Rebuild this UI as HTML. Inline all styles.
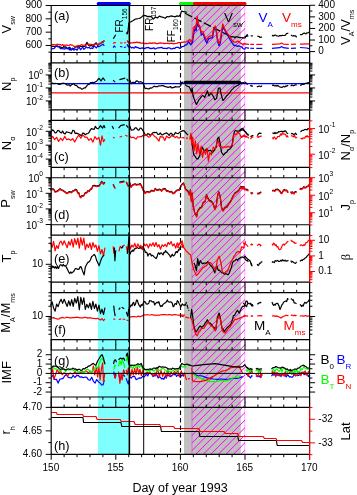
<!DOCTYPE html>
<html><head><meta charset="utf-8"><title>Day of year 1993</title>
<style>html,body{margin:0;padding:0;background:#fff}svg{display:block}</style></head>
<body>
<svg width="357" height="495" viewBox="0 0 357 495">
<rect x="0" y="0" width="357" height="495" fill="#fff"/>
<rect x="97.9" y="5.5" width="31.7" height="448.9" fill="#80ffff"/>
<rect x="184" y="5.5" width="56.8" height="448.9" fill="#c0c0c0"/>
<defs><clipPath id="hc"><rect x="191.7" y="5.5" width="53.3" height="448.9"/></clipPath></defs>
<g clip-path="url(#hc)" stroke="#ff00ff" stroke-width="1"><line x1="194.67" y1="3.50" x2="-258.20" y2="456.37"/><line x1="202.20" y1="3.50" x2="-250.67" y2="456.37"/><line x1="209.73" y1="3.50" x2="-243.14" y2="456.37"/><line x1="217.26" y1="3.50" x2="-235.61" y2="456.37"/><line x1="224.79" y1="3.50" x2="-228.08" y2="456.37"/><line x1="232.32" y1="3.50" x2="-220.55" y2="456.37"/><line x1="239.85" y1="3.50" x2="-213.02" y2="456.37"/><line x1="247.39" y1="3.50" x2="-205.48" y2="456.37"/><line x1="254.92" y1="3.50" x2="-197.95" y2="456.37"/><line x1="262.45" y1="3.50" x2="-190.42" y2="456.37"/><line x1="269.98" y1="3.50" x2="-182.89" y2="456.37"/><line x1="277.51" y1="3.50" x2="-175.36" y2="456.37"/><line x1="285.04" y1="3.50" x2="-167.83" y2="456.37"/><line x1="292.57" y1="3.50" x2="-160.30" y2="456.37"/><line x1="300.10" y1="3.50" x2="-152.77" y2="456.37"/><line x1="307.63" y1="3.50" x2="-145.24" y2="456.37"/><line x1="315.16" y1="3.50" x2="-137.71" y2="456.37"/><line x1="322.70" y1="3.50" x2="-130.17" y2="456.37"/><line x1="330.23" y1="3.50" x2="-122.64" y2="456.37"/><line x1="337.76" y1="3.50" x2="-115.11" y2="456.37"/><line x1="345.29" y1="3.50" x2="-107.58" y2="456.37"/><line x1="352.82" y1="3.50" x2="-100.05" y2="456.37"/><line x1="360.35" y1="3.50" x2="-92.52" y2="456.37"/><line x1="367.88" y1="3.50" x2="-84.99" y2="456.37"/><line x1="375.41" y1="3.50" x2="-77.46" y2="456.37"/><line x1="382.94" y1="3.50" x2="-69.93" y2="456.37"/><line x1="390.48" y1="3.50" x2="-62.39" y2="456.37"/><line x1="398.01" y1="3.50" x2="-54.86" y2="456.37"/><line x1="405.54" y1="3.50" x2="-47.33" y2="456.37"/><line x1="413.07" y1="3.50" x2="-39.80" y2="456.37"/><line x1="420.60" y1="3.50" x2="-32.27" y2="456.37"/><line x1="428.13" y1="3.50" x2="-24.74" y2="456.37"/><line x1="435.66" y1="3.50" x2="-17.21" y2="456.37"/><line x1="443.19" y1="3.50" x2="-9.68" y2="456.37"/><line x1="450.72" y1="3.50" x2="-2.15" y2="456.37"/><line x1="458.25" y1="3.50" x2="5.38" y2="456.37"/><line x1="465.78" y1="3.50" x2="12.91" y2="456.37"/><line x1="473.32" y1="3.50" x2="20.45" y2="456.37"/><line x1="480.85" y1="3.50" x2="27.98" y2="456.37"/><line x1="488.38" y1="3.50" x2="35.51" y2="456.37"/><line x1="495.91" y1="3.50" x2="43.04" y2="456.37"/><line x1="503.44" y1="3.50" x2="50.57" y2="456.37"/><line x1="510.97" y1="3.50" x2="58.10" y2="456.37"/><line x1="518.50" y1="3.50" x2="65.63" y2="456.37"/><line x1="526.03" y1="3.50" x2="73.16" y2="456.37"/><line x1="533.56" y1="3.50" x2="80.69" y2="456.37"/><line x1="541.10" y1="3.50" x2="88.23" y2="456.37"/><line x1="548.63" y1="3.50" x2="95.76" y2="456.37"/><line x1="556.16" y1="3.50" x2="103.29" y2="456.37"/><line x1="563.69" y1="3.50" x2="110.82" y2="456.37"/><line x1="571.22" y1="3.50" x2="118.35" y2="456.37"/><line x1="578.75" y1="3.50" x2="125.88" y2="456.37"/><line x1="586.28" y1="3.50" x2="133.41" y2="456.37"/><line x1="593.81" y1="3.50" x2="140.94" y2="456.37"/><line x1="601.34" y1="3.50" x2="148.47" y2="456.37"/><line x1="608.87" y1="3.50" x2="156.00" y2="456.37"/><line x1="616.40" y1="3.50" x2="163.53" y2="456.37"/><line x1="623.94" y1="3.50" x2="171.07" y2="456.37"/><line x1="631.47" y1="3.50" x2="178.60" y2="456.37"/><line x1="639.00" y1="3.50" x2="186.13" y2="456.37"/><line x1="646.53" y1="3.50" x2="193.66" y2="456.37"/><line x1="654.06" y1="3.50" x2="201.19" y2="456.37"/><line x1="661.59" y1="3.50" x2="208.72" y2="456.37"/><line x1="669.12" y1="3.50" x2="216.25" y2="456.37"/><line x1="676.65" y1="3.50" x2="223.78" y2="456.37"/><line x1="684.18" y1="3.50" x2="231.31" y2="456.37"/><line x1="691.71" y1="3.50" x2="238.84" y2="456.37"/><line x1="699.25" y1="3.50" x2="246.38" y2="456.37"/></g>
<line x1="192.00" y1="5.50" x2="192.00" y2="454.37" stroke="#ff00ff" stroke-width="1" stroke-opacity="0.4"/>
<line x1="244.80" y1="5.50" x2="244.80" y2="454.37" stroke="#ff00ff" stroke-width="1" stroke-opacity="0.35"/>
<line x1="98.40" y1="3.80" x2="129.10" y2="3.80" stroke="#0000ff" stroke-width="3.5" stroke-linecap="round"/>
<line x1="194.00" y1="3.80" x2="244.80" y2="3.80" stroke="#ff0000" stroke-width="3.5" stroke-linecap="round"/>
<line x1="180.70" y1="3.80" x2="192.50" y2="3.80" stroke="#00ff00" stroke-width="3.5" stroke-linecap="round"/>
<rect x="191.5" y="2.05" width="2.5" height="3.5" fill="#00ff00"/>
<rect x="193.2" y="2.05" width="2.5" height="3.5" fill="#ff0000"/>
<polyline points="51.4,46.8 52.5,46.4 53.6,46.4 54.7,46.7 55.8,46.2 57.0,46.5 58.1,46.9 59.2,46.1 60.3,47.1 61.4,47.4 62.6,48.1 63.7,46.4 64.8,47.3 65.9,46.7 67.0,48.8 68.2,48.5 69.3,47.1 70.4,49.9 71.5,49.6 72.6,49.0 73.8,48.7 74.9,47.6 76.0,46.4 77.1,47.3 78.3,46.1 79.4,46.1 80.5,46.4 81.6,46.5 82.7,46.8 83.9,46.3 85.0,46.5 86.0,44.1 87.0,42.3 88.7,45.5 89.7,46.1 90.7,45.7 91.7,45.6 93.0,46.5 94.2,45.1 96.1,42.7 97.7,45.5 98.9,44.2 100.1,43.8 101.1,42.9 102.1,41.9 103.2,42.2 104.3,40.4" fill="none" stroke="#000" stroke-width="1.2" stroke-linejoin="round" />
<polyline points="51.4,49.3 52.5,48.7 53.6,48.7 54.7,47.9 55.8,46.3 57.0,45.6 58.1,46.6 59.2,46.6 60.3,48.6 61.4,48.5 62.6,48.7 63.7,48.8 64.8,49.1 65.9,47.6 67.0,48.4 68.2,47.9 69.3,50.0 70.4,47.7 71.5,49.9 72.6,48.2 73.8,50.2 74.9,49.5 76.0,49.2 77.1,50.2 78.3,48.0 79.4,47.4 80.5,49.8 81.6,48.5 82.7,47.0 83.9,49.4 85.0,48.5 86.1,46.7 87.2,47.8 88.3,47.5 89.5,47.7 90.6,48.7 91.7,47.9 92.8,48.6 93.9,46.2 95.1,46.6 96.2,48.0 97.3,46.6 98.4,46.7 99.5,46.5 100.7,45.6 101.8,44.9 103.0,44.1 104.3,46.0" fill="none" stroke="#0000ff" stroke-width="1.2" stroke-linejoin="round" />
<polyline points="51.4,45.1 52.5,44.4 53.6,44.9 54.7,44.5 55.8,45.1 57.0,44.1 58.1,44.5 59.2,44.3 60.3,44.5 61.4,45.4 62.6,44.6 63.7,45.4 64.8,45.2 65.9,45.0 67.0,45.1 68.2,45.5 69.3,45.4 70.4,44.5 71.5,45.2 72.6,45.0 73.8,46.5 74.9,46.3 76.0,46.2 77.1,46.0 78.3,45.4 79.4,45.8 80.5,45.4 81.6,44.5 82.7,45.5 83.9,45.0 85.0,45.4 86.1,45.0 87.2,44.4 88.3,44.1 89.5,44.3 90.6,44.3 91.7,44.4 92.8,44.9 93.9,44.4 95.1,44.0 96.2,44.1 97.3,44.1 98.4,44.6 99.5,43.1 100.7,43.5 101.8,42.5 103.0,41.4 104.3,41.4" fill="none" stroke="#ff0000" stroke-width="1.2" stroke-linejoin="round" />
<polyline points="113.3,38.8 115.7,34.7" fill="none" stroke="#000" stroke-width="1.2" stroke-linejoin="round" />
<polyline points="126.2,33.5 127.8,31.5" fill="none" stroke="#000" stroke-width="1.2" stroke-linejoin="round" />
<polyline points="113.0,43.5 114.5,42.5 116.0,43.0" fill="none" stroke="#ff0000" stroke-width="1.2" stroke-linejoin="round" />
<polyline points="120.0,43.0 122.5,42.8" fill="none" stroke="#ff0000" stroke-width="1.2" stroke-linejoin="round" />
<polyline points="124.0,43.0 126.0,42.5" fill="none" stroke="#ff0000" stroke-width="1.2" stroke-linejoin="round" />
<polyline points="127.0,42.0 129.0,41.5" fill="none" stroke="#ff0000" stroke-width="1.2" stroke-linejoin="round" />
<polyline points="113.0,47.5 114.5,46.0 115.5,47.5" fill="none" stroke="#0000ff" stroke-width="1.2" stroke-linejoin="round" />
<polyline points="120.0,46.5 122.5,47.0" fill="none" stroke="#0000ff" stroke-width="1.2" stroke-linejoin="round" />
<polyline points="124.0,47.5 126.0,47.0" fill="none" stroke="#0000ff" stroke-width="1.2" stroke-linejoin="round" />
<polyline points="127.0,45.5 129.0,46.5" fill="none" stroke="#0000ff" stroke-width="1.2" stroke-linejoin="round" />
<polyline points="127.0,34.4 127.9,32.0 128.9,22.8 130.9,21.8 132.8,20.7 134.8,19.4 136.8,18.8 138.7,18.5 140.7,17.9 142.6,16.1 143.6,15.4 145.6,15.6 147.5,16.6 149.5,16.3 151.5,16.8 153.4,19.1 155.4,17.0 157.4,18.0 159.3,16.1 161.3,16.9 163.2,17.3 165.2,18.3 167.2,16.5 169.1,16.8 171.1,15.9 173.0,16.3 175.0,16.9 177.0,15.9 178.9,16.4 180.5,14.3 181.5,11.1 182.8,11.4 184.8,11.8 186.8,12.4" fill="none" stroke="#000" stroke-width="1.2" stroke-linejoin="round" />
<polyline points="185.0,13.2 228.5,35.4" fill="none" stroke="#000" stroke-width="1.25" stroke-dasharray="8 2.5" stroke-linejoin="round" />
<polyline points="228.5,35.6 229.8,36.3 231.0,36.8 232.0,36.7 233.0,36.8 234.0,36.8 235.0,37.7 236.0,36.8 237.0,36.9 238.0,37.1 239.0,37.3 240.0,37.7 241.0,37.6 242.0,37.5 243.0,38.1 244.0,37.8 245.0,38.0 246.5,35.4 248.0,34.6" fill="none" stroke="#000" stroke-width="1.2" stroke-linejoin="round" />
<polyline points="127.0,44.2 128.9,47.5 130.2,46.6 131.5,47.9 132.8,47.4 134.2,48.2 135.5,46.6 136.8,47.5 138.1,47.7 139.4,48.3 140.7,48.5 142.0,47.8 143.3,48.1 144.6,48.7 145.9,47.9 147.2,47.6 148.5,47.5 149.8,48.4 151.1,48.5 152.5,48.4 153.8,47.8 155.1,49.0 156.4,48.5 157.7,47.8 159.0,47.9 160.3,47.6 161.6,47.3 162.9,48.3 164.2,48.4 165.5,48.3 166.8,48.6 168.1,47.8 169.4,47.8 170.8,48.8 172.1,48.9 173.4,48.2 174.7,48.6 176.0,47.3 177.3,47.3 178.6,47.5 179.9,48.5 181.9,46.7 183.8,46.3 185.3,45.0 186.8,44.6 188.7,41.6 190.7,44.8 192.6,42.2 193.7,33.1 195.3,27.8 196.1,30.8 197.5,19.2 198.2,26.3 199.8,26.9 201.4,35.0 203.3,33.7 204.7,38.8 206.7,43.0 208.6,38.9 210.6,38.1 212.5,37.7 213.9,30.2 215.5,27.2 216.5,32.1 217.5,40.8 219.0,45.7 220.4,42.7 221.8,32.1 222.9,27.2 224.3,29.5 226.3,33.0 228.2,36.3 230.2,39.8 232.0,42.6 233.9,45.3 235.4,45.4 236.9,46.3 238.8,45.8 240.3,46.5 241.8,47.0 243.1,48.5 244.4,49.3 245.7,48.5" fill="none" stroke="#0000ff" stroke-width="1.3" stroke-linejoin="round" />
<polyline points="127.0,40.3 128.9,43.1 130.2,43.0 131.5,42.9 132.8,42.8 134.2,42.5 135.5,42.6 136.8,42.1 138.1,42.7 139.4,42.4 140.7,43.1 142.0,43.2 143.3,43.1 144.6,43.7 145.9,43.3 147.2,43.6 148.5,43.4 149.8,42.8 151.1,43.3 152.5,43.0 153.8,43.2 155.1,42.9 156.4,43.6 157.7,43.6 159.0,43.1 160.3,43.0 161.6,43.2 162.9,43.2 164.2,43.7 165.5,43.3 166.8,43.3 168.1,43.3 169.4,43.7 170.8,43.3 172.1,43.3 173.4,43.9 174.7,43.6 176.0,43.4 177.3,43.1 178.6,42.7 179.9,42.6 181.2,42.4 182.5,42.4 183.8,42.0 185.1,42.1 186.4,41.8 187.7,41.0 189.7,39.5 191.3,42.2 192.6,38.3 193.3,30.3 194.7,26.5 195.7,28.4 197.3,16.7 198.0,23.5 199.6,25.8 201.2,32.1 203.1,31.6 204.5,35.8 206.5,40.0 208.4,37.1 210.4,35.9 212.4,35.7 213.7,28.3 215.3,26.0 216.3,31.1 217.3,38.0 218.8,43.7 220.2,40.7 221.6,30.7 222.7,24.0 224.1,27.5 226.1,31.6 228.0,34.2 230.0,37.0 232.0,40.1 233.9,42.0 235.9,42.2 237.8,41.1 239.8,42.6 241.3,43.5 242.7,44.4 244.2,43.6 245.7,44.2" fill="none" stroke="#ff0000" stroke-width="1.3" stroke-linejoin="round" />
<polyline points="245.1,37.0 246.2,36.4 247.3,36.1 248.4,36.0" fill="none" stroke="#000" stroke-width="1.2" stroke-linejoin="round" />
<polyline points="250.7,35.7 251.8,36.0 252.9,35.9" fill="none" stroke="#000" stroke-width="1.2" stroke-linejoin="round" />
<polyline points="257.4,36.1 258.2,36.5 259.1,36.4 259.9,37.3 260.8,37.4 261.9,36.8" fill="none" stroke="#000" stroke-width="1.2" stroke-linejoin="round" />
<polyline points="272.0,35.9 272.8,35.3 273.7,35.9 274.5,35.3 275.3,35.1 276.2,35.6 277.0,35.8 277.9,36.0 278.7,36.3 279.5,35.7 280.4,35.5 281.2,35.9 282.1,35.2 282.9,35.5 283.7,35.5 284.6,35.5 285.4,35.1 286.4,33.8 287.4,33.3 288.3,33.4" fill="none" stroke="#000" stroke-width="1.2" stroke-linejoin="round" />
<polyline points="291.0,34.9 291.9,35.7 292.8,36.0 293.7,35.6 294.7,35.9 295.7,35.9 296.6,37.4" fill="none" stroke="#000" stroke-width="1.2" stroke-linejoin="round" />
<polyline points="300.0,34.8 300.8,34.5 301.7,34.7 302.5,34.0 303.3,33.4 304.2,32.9 305.0,33.4 305.9,33.9 306.7,32.8 307.7,33.0 308.7,32.5 309.6,31.8" fill="none" stroke="#000" stroke-width="1.2" stroke-linejoin="round" />
<polyline points="245.1,43.9 248.4,44.4 254.0,44.4" fill="none" stroke="#ff0000" stroke-width="1.2" stroke-dasharray="4 1.2" stroke-linejoin="round" />
<polyline points="256.3,44.4 262.3,44.4" fill="none" stroke="#ff0000" stroke-width="1.2" stroke-linejoin="round" />
<polyline points="272.0,44.4 279.8,43.9 281.6,43.0 283.2,44.1 288.8,44.4" fill="none" stroke="#ff0000" stroke-width="1.2" stroke-linejoin="round" />
<polyline points="291.0,44.4 296.0,44.1" fill="none" stroke="#ff0000" stroke-width="1.2" stroke-linejoin="round" />
<polyline points="300.0,44.1 309.6,43.9" fill="none" stroke="#ff0000" stroke-width="1.2" stroke-linejoin="round" />
<polyline points="245.1,47.5 248.4,48.2 254.0,48.4" fill="none" stroke="#0000ff" stroke-width="1.2" stroke-dasharray="4 1.2" stroke-linejoin="round" />
<polyline points="256.3,48.4 262.3,48.4" fill="none" stroke="#0000ff" stroke-width="1.2" stroke-linejoin="round" />
<polyline points="272.0,48.4 279.8,47.7 281.6,46.4 283.2,47.7 288.8,48.4" fill="none" stroke="#0000ff" stroke-width="1.2" stroke-linejoin="round" />
<polyline points="291.0,48.4 296.0,48.2" fill="none" stroke="#0000ff" stroke-width="1.2" stroke-linejoin="round" />
<polyline points="300.0,47.5 306.7,48.0 309.6,48.9" fill="none" stroke="#0000ff" stroke-width="1.2" stroke-linejoin="round" />
<line x1="51.20" y1="83.60" x2="309.60" y2="83.60" stroke="#0000ff" stroke-width="1.25" />
<line x1="51.20" y1="92.85" x2="309.60" y2="92.85" stroke="#ff0000" stroke-width="1.25" />
<polyline points="51.3,83.7 52.6,83.0 53.8,83.7 55.1,83.3 56.3,83.5 57.6,83.5 58.9,84.5 60.1,84.3 61.4,83.6 62.6,83.2 63.9,83.3 65.2,83.5 66.4,84.6 67.7,85.2 68.9,84.7 70.2,86.0 71.5,84.8 72.7,84.3 74.0,83.8 75.2,85.5 76.5,85.4 77.8,87.0 79.0,87.8 80.3,87.8 81.6,89.1 82.8,88.8 84.1,87.9 85.3,87.9 86.6,86.1 87.9,84.7 89.1,84.5 90.4,82.6 91.6,82.6 92.9,82.4 94.2,82.8 95.4,81.7 96.7,81.2 97.9,79.5 99.2,78.3 101.0,81.0 103.0,77.9 105.0,80.7" fill="none" stroke="#000" stroke-width="1.2" stroke-linejoin="round" />
<polyline points="113.1,80.2 115.1,82.2" fill="none" stroke="#000" stroke-width="1.2" stroke-linejoin="round" />
<polyline points="119.4,79.7 125.2,78.2" fill="none" stroke="#000" stroke-width="1.2" stroke-linejoin="round" />
<polyline points="126.7,78.7 128.2,81.2" fill="none" stroke="#000" stroke-width="1.2" stroke-linejoin="round" />
<polyline points="129.5,79.4 131.3,83.6 132.6,82.4 133.8,82.3 135.1,82.7 136.3,80.9 137.6,81.1 138.9,82.3 140.1,81.7 141.4,82.0 143.1,83.0 145.2,88.7 146.4,88.2 147.7,88.8 148.9,88.9 150.2,87.9 151.5,88.1 152.7,87.4 154.0,86.1 155.2,86.6 156.5,86.6 157.8,86.6 159.0,85.8 160.3,86.0 161.6,85.6 162.8,85.6 164.1,86.1 165.3,86.6 166.6,86.8 167.9,87.4 169.1,87.2 170.4,86.5 171.6,87.9 172.9,87.6 174.2,87.4 175.4,86.6 176.7,87.0 177.9,86.9 179.2,87.0 180.5,85.9 181.7,82.4 183.5,82.2" fill="none" stroke="#000" stroke-width="1.2" stroke-linejoin="round" />
<polyline points="185.1,84.5 186.3,85.7 187.6,86.3 188.9,86.6 190.1,88.5 191.4,92.1 192.1,88.2 193.1,95.8 194.7,100.5 196.4,104.4 197.7,102.1 198.9,99.8 200.2,98.3 201.5,96.4 202.7,95.4 204.7,97.3 206.5,93.2 207.3,90.8 209.0,96.0 210.8,93.2 212.8,95.4 214.8,99.8 216.6,98.4 218.4,88.4 219.9,87.9 221.6,96.2 222.9,100.7 224.7,98.6 226.7,95.7 227.9,94.7 229.2,93.4 230.5,91.5 231.7,89.9 233.0,88.6 234.2,87.2 235.5,86.5 236.8,85.7 238.0,85.3 239.3,84.2 241.0,82.9 243.1,82.5 244.3,83.2 245.6,82.4 247.6,84.7" fill="none" stroke="#000" stroke-width="1.2" stroke-linejoin="round" />
<polyline points="250.2,86.0 251.1,85.4 252.0,86.4 252.8,85.7" fill="none" stroke="#000" stroke-width="1.2" stroke-linejoin="round" />
<polyline points="256.8,86.6 257.6,86.6 258.4,86.5 259.2,86.0 260.0,86.3 261.0,86.7 262.0,85.7" fill="none" stroke="#000" stroke-width="1.2" stroke-linejoin="round" />
<polyline points="272.0,85.1 272.8,85.3 273.6,85.2 274.4,85.9 275.2,85.9 276.0,85.4 276.8,86.2 277.6,85.5 278.4,85.8 279.2,86.7 280.0,87.0 280.8,87.1 281.7,87.3 282.5,87.1 283.3,86.3 284.2,86.8 285.0,86.8 285.8,85.9 286.7,86.2 287.5,85.6 288.3,85.5" fill="none" stroke="#000" stroke-width="1.2" stroke-linejoin="round" />
<polyline points="290.8,86.1 291.7,85.0 292.5,85.3 293.3,85.8 294.2,85.4 295.0,85.0 295.8,84.7 296.7,85.2" fill="none" stroke="#000" stroke-width="1.2" stroke-linejoin="round" />
<polyline points="300.0,85.1 301.0,85.2 302.0,84.4 303.0,84.2 304.0,84.4 305.0,83.4 306.0,83.3 306.9,83.2 307.8,82.7 308.7,82.8 309.6,82.0" fill="none" stroke="#000" stroke-width="1.2" stroke-linejoin="round" />
<line x1="185.30" y1="82.30" x2="239.60" y2="82.30" stroke="#000" stroke-width="3.0" stroke-linecap="round"/>
<polyline points="50.5,132.6 52.6,129.8 53.8,130.7 55.1,133.0 56.3,132.7 57.6,130.5 58.9,130.7 60.1,132.2 61.4,132.9 62.6,131.0 63.9,133.4 65.2,133.9 66.4,131.8 67.7,132.2 68.9,132.5 70.2,133.0 71.5,133.6 72.7,130.4 74.0,130.5 75.2,133.4 76.5,133.1 77.8,133.6 79.0,134.2 80.3,134.9 81.6,135.8 82.8,133.1 84.1,133.3 85.3,134.8 86.6,133.8 87.9,133.5 89.1,132.4 90.4,129.9 91.6,128.5 92.9,129.2 94.2,129.3 95.4,126.3 96.7,128.3 97.9,128.8 99.2,127.6 100.5,125.6 102.5,128.1 104.0,125.5 105.0,128.1" fill="none" stroke="#000" stroke-width="1.2" stroke-linejoin="round" />
<polyline points="50.5,138.9 52.6,136.3 54.6,139.6 56.6,137.3 58.6,141.5 60.6,138.2 62.6,140.6 64.7,136.4 66.7,139.7 68.7,138.9 70.7,140.3 72.7,138.6 74.7,142.0 76.8,137.9 78.8,135.2 80.8,138.2 82.8,134.9 84.8,137.2 86.8,137.1 88.9,140.4 90.9,138.4 92.9,142.1 94.9,136.6 96.9,139.4 98.9,137.4 100.5,145.2 102.0,135.9 103.5,141.6 105.0,139.2" fill="none" stroke="#ff0000" stroke-width="1.2" stroke-linejoin="round" />
<polyline points="112.1,126.1 113.6,129.1" fill="none" stroke="#000" stroke-width="1.2" stroke-linejoin="round" />
<polyline points="118.6,128.1 120.6,125.6 124.7,124.6" fill="none" stroke="#000" stroke-width="1.2" stroke-linejoin="round" />
<polyline points="126.2,125.1 128.2,127.6" fill="none" stroke="#000" stroke-width="1.2" stroke-linejoin="round" />
<polyline points="113.1,137.2 114.6,138.2" fill="none" stroke="#ff0000" stroke-width="1.2" stroke-linejoin="round" />
<polyline points="119.6,137.2 122.1,136.2" fill="none" stroke="#ff0000" stroke-width="1.2" stroke-linejoin="round" />
<polyline points="125.2,135.2 127.7,136.2" fill="none" stroke="#ff0000" stroke-width="1.2" stroke-linejoin="round" />
<polyline points="129.5,125.1 131.3,130.2 132.6,130.0 133.8,129.6 135.1,127.8 136.3,127.8 137.6,129.7 138.9,130.3 140.1,128.0 141.4,128.4 143.1,130.8 145.2,134.7 146.4,135.4 147.7,133.7 148.9,134.0 150.2,135.4 151.5,134.3 152.7,132.8 154.0,132.4 155.2,132.6 156.5,132.2 157.8,134.3 159.0,134.3 160.3,133.0 161.6,134.6 162.8,134.9 164.1,133.8 165.3,133.4 166.6,132.9 167.9,133.9 169.1,135.5 170.4,133.3 171.6,133.4 172.9,135.3 174.2,134.6 175.4,132.5 176.7,133.2 177.9,133.7 179.2,132.8 180.5,131.8 182.5,130.7 184.2,130.8 186.0,133.0 188.0,135.2" fill="none" stroke="#000" stroke-width="1.2" stroke-linejoin="round" />
<polyline points="129.5,135.7 131.3,137.7 132.6,137.4 133.8,137.3 135.1,138.6 136.3,138.9 137.6,136.8 138.9,137.0 140.1,136.5 141.4,136.8 142.6,135.5 143.9,136.2 145.2,134.6 146.4,134.8 147.7,136.3 148.9,137.2 150.2,136.7 151.5,134.4 152.7,134.4 154.0,135.7 155.2,136.8 156.5,137.8 157.8,139.6 159.0,141.0 160.3,136.3 161.6,137.1 162.8,136.8 164.8,140.4 166.6,136.1 167.9,137.3 169.1,137.9 170.4,136.9 171.6,135.5 172.9,136.2 174.2,136.7 175.4,137.6 176.7,136.3 177.9,137.7 179.2,138.2 181.0,136.7" fill="none" stroke="#ff0000" stroke-width="1.2" stroke-linejoin="round" />
<polyline points="181.5,137.7 188.0,138.2" fill="none" stroke="#ff0000" stroke-width="1.2" stroke-dasharray="3 1.5" stroke-linejoin="round" />
<polyline points="190.8,134.6 192.2,144.5 193.7,154.5 195.7,157.4 196.9,158.8 198.0,158.9 199.6,155.7 201.2,150.4 202.5,147.6 204.5,151.5 206.5,148.8 208.4,151.0 210.4,150.2 212.4,152.5 214.3,150.4 216.3,146.6 217.6,138.4 218.8,137.1 220.2,143.9 221.6,152.5 223.5,155.1 225.5,152.7 226.8,152.1 228.0,149.8 230.0,149.0 232.0,146.2 233.3,136.2 234.5,131.3 235.7,130.4 236.9,131.1 238.8,131.2 240.8,129.3 242.7,128.3 244.7,131.1 246.7,133.7 248.6,134.6" fill="none" stroke="#000" stroke-width="1.2" stroke-linejoin="round" />
<polyline points="189.8,139.5 190.8,133.4 191.8,145.1 192.7,137.2 194.1,150.9 195.3,140.9 196.7,153.8 198.0,143.7 199.6,154.4 201.2,146.0 202.5,157.5 203.9,150.2 205.5,154.3 207.1,148.4 208.4,161.2 209.8,152.7 211.4,154.9 213.3,147.1 215.3,148.8 216.9,143.0 218.2,140.3 219.8,146.8 221.2,146.4 222.5,147.3 223.8,147.1 225.1,146.9 226.6,147.4 228.0,146.1 229.5,147.3 231.0,145.9 232.5,144.5 233.9,134.4 235.9,134.3 237.8,132.1 239.8,134.2 241.8,137.4 243.7,135.4 245.2,135.9 246.7,137.5" fill="none" stroke="#ff0000" stroke-width="1.2" stroke-linejoin="round" />
<polyline points="240.0,130.7 240.8,130.7 241.7,129.4 242.5,130.1 243.4,129.9 244.5,131.3 245.6,131.8 246.7,133.7 247.8,135.0 248.7,135.5" fill="none" stroke="#000" stroke-width="1.2" stroke-linejoin="round" />
<polyline points="250.4,136.3 251.2,136.4 252.3,135.6 253.4,135.5" fill="none" stroke="#000" stroke-width="1.2" stroke-linejoin="round" />
<polyline points="257.0,135.4 257.9,134.9 258.8,133.4 259.7,133.2 260.6,133.4 261.5,133.3" fill="none" stroke="#000" stroke-width="1.2" stroke-linejoin="round" />
<polyline points="272.3,133.3 273.2,133.0 274.1,133.7 275.0,132.4 275.9,133.6 276.8,132.8 277.6,133.0 278.5,131.7 279.4,131.8 280.3,131.5 281.2,131.2 282.1,131.8 283.0,131.1 283.9,131.9 284.8,130.8 285.7,130.9 286.5,132.6 287.3,133.3 288.2,133.6" fill="none" stroke="#000" stroke-width="1.2" stroke-linejoin="round" />
<polyline points="290.9,133.4 291.8,133.6 292.7,133.6 293.6,134.6 294.5,134.2 295.4,133.2 296.2,134.4 297.1,134.4" fill="none" stroke="#000" stroke-width="1.2" stroke-linejoin="round" />
<polyline points="300.5,132.1 301.3,131.0 302.2,130.4 303.0,130.5 303.9,130.1 304.7,129.6 305.5,129.4 306.3,129.5 307.1,129.9 307.9,128.6 308.7,128.8 309.5,128.9" fill="none" stroke="#000" stroke-width="1.2" stroke-linejoin="round" />
<polyline points="240.0,137.4 240.9,136.6 241.8,136.7 242.7,136.1 243.6,136.3 244.5,136.4 245.3,136.9 246.2,136.3 247.0,136.8 247.8,137.0 248.7,138.3" fill="none" stroke="#ff0000" stroke-width="1.2" stroke-linejoin="round" />
<polyline points="250.4,139.1 251.2,138.0 252.3,136.9 253.4,137.3" fill="none" stroke="#ff0000" stroke-width="1.2" stroke-linejoin="round" />
<polyline points="256.8,137.0 257.6,136.5 258.4,137.4 259.2,136.8 260.0,136.3 260.8,136.4 261.6,135.7" fill="none" stroke="#ff0000" stroke-width="1.2" stroke-linejoin="round" />
<polyline points="272.3,137.5 273.2,138.8 274.1,137.0 275.0,137.8 275.9,139.2 276.7,138.4 277.5,136.5 278.4,136.5 279.2,136.8 280.1,135.4 280.9,133.7 281.7,135.1 282.6,132.8 283.7,134.1 284.8,134.2 285.7,134.8 286.5,136.8 287.3,135.8 288.2,137.6" fill="none" stroke="#ff0000" stroke-width="1.2" stroke-linejoin="round" />
<polyline points="290.9,135.5 291.8,136.0 292.7,136.1 293.6,136.9 294.5,135.4 295.4,137.6 296.2,137.9 297.1,137.1" fill="none" stroke="#ff0000" stroke-width="1.2" stroke-linejoin="round" />
<polyline points="300.5,138.7 301.3,138.3 302.2,139.1 303.0,137.8 303.9,138.1 304.7,138.2 305.5,136.4 306.3,136.8 307.1,135.7 307.9,136.8 308.7,136.7 309.5,136.3" fill="none" stroke="#ff0000" stroke-width="1.2" stroke-linejoin="round" />
<polyline points="50.0,189.2 51.3,189.1 52.6,188.9 53.8,189.2 55.1,191.6 56.3,191.4 57.6,190.9 58.9,189.7 60.1,188.6 61.4,189.9 62.6,190.1 63.9,190.9 65.2,191.8 66.4,193.1 67.7,192.9 68.9,191.8 70.2,191.7 71.5,192.3 72.7,190.8 74.0,190.6 75.2,189.4 76.5,189.6 77.8,192.7 78.8,192.6 79.8,196.2 80.8,197.3 81.8,195.5 82.8,195.9 84.1,194.9 85.3,192.5 86.6,192.6 87.9,190.7 89.1,191.1 90.4,189.0 91.6,188.7 92.9,185.5 94.2,185.4 95.4,185.6 96.7,186.1 97.9,185.7 99.2,185.6 100.5,183.5 101.7,181.4 103.5,183.7 105.0,182.2" fill="none" stroke="#000" stroke-width="1.2" stroke-linejoin="round" />
<polyline points="113.1,184.2 115.1,188.2" fill="none" stroke="#000" stroke-width="1.2" stroke-linejoin="round" />
<polyline points="119.4,182.2 124.4,181.2" fill="none" stroke="#000" stroke-width="1.2" stroke-linejoin="round" />
<polyline points="126.2,181.7 128.4,186.2" fill="none" stroke="#000" stroke-width="1.2" stroke-linejoin="round" />
<polyline points="129.5,181.7 131.0,186.9 132.6,184.8 133.8,184.3 135.1,183.8 136.3,184.6 137.6,184.3 138.9,184.3 140.1,183.6 141.4,185.4 143.1,189.8 144.2,191.1 145.2,193.0 146.4,191.5 147.7,191.5 148.9,192.0 150.2,191.5 151.5,190.3 152.7,190.6 154.0,190.8 155.2,188.5 156.5,189.7 157.8,189.9 159.0,189.2 160.3,189.3 161.6,190.7 162.8,189.0 164.1,188.7 165.3,188.7 166.6,190.9 167.9,190.7 169.1,191.5 170.4,191.6 171.6,191.3 172.9,193.3 174.2,192.9 175.4,191.5 176.7,190.2 177.9,189.8 179.2,189.8 180.5,186.9 181.7,184.5 183.5,183.0 184.5,185.8 185.5,188.9 185.9,189.6 187.8,190.8 189.4,194.6 190.4,189.9 191.4,201.2 192.2,193.0 193.3,206.7 194.7,212.4 196.7,216.4 197.6,211.4 199.6,208.1 201.6,207.1 203.1,202.5 205.1,201.3 206.5,194.6 207.8,197.9 209.4,200.7 211.4,201.2 213.3,204.0 214.9,209.1 216.3,205.4 217.6,195.5 218.8,191.8 220.2,196.4 221.6,207.6 223.1,210.5 225.1,207.5 227.1,206.6 229.0,203.5 231.0,200.7 232.9,196.3 234.9,193.0 236.9,191.8 238.8,190.2 240.8,186.9 242.7,186.5 244.7,187.3" fill="none" stroke="#000" stroke-width="1.2" stroke-linejoin="round" />
<polyline points="240.0,188.0 240.8,187.2 241.6,188.3 242.5,187.4 243.3,188.0 244.1,188.7 244.9,189.3 245.7,189.1 246.6,189.6 247.4,189.3 248.2,190.6" fill="none" stroke="#000" stroke-width="1.2" stroke-linejoin="round" />
<polyline points="250.7,192.4 251.5,193.2 252.3,193.0 253.1,192.7" fill="none" stroke="#000" stroke-width="1.2" stroke-linejoin="round" />
<polyline points="257.2,193.6 258.0,193.2 258.9,193.4 259.7,192.8 260.5,192.3 261.3,191.9" fill="none" stroke="#000" stroke-width="1.2" stroke-linejoin="round" />
<polyline points="272.1,190.6 273.1,190.3 274.0,190.4 274.9,190.8 275.8,189.4 276.8,189.3 277.7,189.1 278.5,189.8 279.3,190.4 280.2,191.5 281.0,192.9 281.8,193.0 282.6,191.6 283.4,190.2 284.3,189.5 285.1,190.4 285.9,190.1 286.7,190.0 287.5,191.8 288.4,191.8" fill="none" stroke="#000" stroke-width="1.2" stroke-linejoin="round" />
<polyline points="290.8,191.5 291.6,193.2 292.5,191.9 293.3,193.0 294.1,193.4 294.9,191.7 295.7,191.9 296.6,191.6" fill="none" stroke="#000" stroke-width="1.2" stroke-linejoin="round" />
<polyline points="299.8,189.2 300.7,188.3 301.5,188.9 302.3,188.3 303.1,187.6 303.9,186.6 304.8,187.6 305.6,187.3 306.4,186.9 307.2,186.2 308.4,185.8 309.5,184.1" fill="none" stroke="#000" stroke-width="1.2" stroke-linejoin="round" />
<polyline points="50.0,189.8 51.3,189.7 52.6,189.5 53.8,189.8 55.1,192.2 56.3,192.0 57.6,191.5 58.9,190.3 60.1,189.2 61.4,190.5 62.6,190.7 63.9,191.5 65.2,192.4 66.4,193.7 67.7,193.5 68.9,192.4 70.2,192.3 71.5,192.9 72.7,191.4 74.0,191.2 75.2,190.0 76.5,190.2 77.8,193.3 78.8,193.2 79.8,196.8 80.8,197.9 81.8,196.1 82.8,196.5 84.1,195.5 85.3,193.1 86.6,193.2 87.9,191.3 89.1,191.7 90.4,189.6 91.6,189.3 92.9,186.1 94.2,186.0 95.4,186.2 96.7,186.7 97.9,186.3 99.2,186.2 100.5,184.1 101.7,182.0 103.5,184.3 105.0,182.8" fill="none" stroke="#ff0000" stroke-width="1.2" stroke-linejoin="round" />
<polyline points="113.1,184.8 115.1,188.8" fill="none" stroke="#ff0000" stroke-width="1.2" stroke-linejoin="round" />
<polyline points="119.4,182.8 124.4,181.8" fill="none" stroke="#ff0000" stroke-width="1.2" stroke-linejoin="round" />
<polyline points="126.2,182.3 128.4,186.8" fill="none" stroke="#ff0000" stroke-width="1.2" stroke-linejoin="round" />
<polyline points="129.5,182.3 131.0,187.5 132.6,185.4 133.8,184.9 135.1,184.4 136.3,185.2 137.6,184.9 138.9,184.9 140.1,184.2 141.4,186.0 143.1,190.4 144.2,191.7 145.2,193.6 146.4,192.1 147.7,192.1 148.9,192.6 150.2,192.1 151.5,190.9 152.7,191.2 154.0,191.4 155.2,189.1 156.5,190.3 157.8,190.5 159.0,189.8 160.3,189.9 161.6,191.3 162.8,189.6 164.1,189.3 165.3,189.3 166.6,191.5 167.9,191.3 169.1,192.1 170.4,192.2 171.6,191.9 172.9,193.9 174.2,193.5 175.4,192.1 176.7,190.8 177.9,190.4 179.2,190.4 180.5,187.5 181.7,185.1 183.5,183.6 184.5,186.4 185.5,189.5 185.9,190.2 187.8,191.4 189.4,195.2 190.4,190.5 191.4,201.8 192.2,193.6 193.3,207.3 194.7,213.0 196.7,217.0 197.6,212.0 199.6,208.7 201.6,207.7 203.1,203.1 205.1,201.9 206.5,195.2 207.8,198.5 209.4,201.3 211.4,201.8 213.3,204.6 214.9,209.7 216.3,206.0 217.6,196.1 218.8,192.4 220.2,197.0 221.6,208.2 223.1,211.1 225.1,208.1 227.1,207.2 229.0,204.1 231.0,201.3 232.9,196.9 234.9,193.6 236.9,192.4 238.8,190.8 240.8,187.5 242.7,187.1 244.7,187.9" fill="none" stroke="#ff0000" stroke-width="1.2" stroke-linejoin="round" />
<polyline points="240.0,188.6 240.8,187.8 241.6,188.9 242.5,188.0 243.3,188.6 244.1,189.3 244.9,189.9 245.7,189.7 246.6,190.2 247.4,189.9 248.2,191.2" fill="none" stroke="#ff0000" stroke-width="1.2" stroke-linejoin="round" />
<polyline points="250.7,193.0 251.5,193.8 252.3,193.6 253.1,193.3" fill="none" stroke="#ff0000" stroke-width="1.2" stroke-linejoin="round" />
<polyline points="257.2,194.2 258.0,193.8 258.9,194.0 259.7,193.4 260.5,192.9 261.3,192.5" fill="none" stroke="#ff0000" stroke-width="1.2" stroke-linejoin="round" />
<polyline points="272.1,191.2 273.1,190.9 274.0,191.0 274.9,191.4 275.8,190.0 276.8,189.9 277.7,189.7 278.5,190.4 279.3,191.0 280.2,192.1 281.0,193.5 281.8,193.6 282.6,192.2 283.4,190.8 284.3,190.1 285.1,191.0 285.9,190.7 286.7,190.6 287.5,192.4 288.4,192.4" fill="none" stroke="#ff0000" stroke-width="1.2" stroke-linejoin="round" />
<polyline points="290.8,192.1 291.6,193.8 292.5,192.5 293.3,193.6 294.1,194.0 294.9,192.3 295.7,192.5 296.6,192.2" fill="none" stroke="#ff0000" stroke-width="1.2" stroke-linejoin="round" />
<polyline points="299.8,189.8 300.7,188.9 301.5,189.5 302.3,188.9 303.1,188.2 303.9,187.2 304.8,188.2 305.6,187.9 306.4,187.5 307.2,186.8 308.4,186.4 309.5,184.7" fill="none" stroke="#ff0000" stroke-width="1.2" stroke-linejoin="round" />
<polyline points="50.5,242.6 52.1,247.3 53.6,241.3 55.1,250.9 56.6,245.6 58.1,248.5 59.6,242.7 61.1,241.2 62.6,245.0 64.2,240.8 65.7,244.2 67.2,247.7 68.7,241.5 70.2,245.2 71.7,239.4 73.2,247.1 74.7,238.7 76.3,244.6 77.8,238.1 79.3,248.2 80.8,237.7 82.3,245.1 83.8,238.0 85.3,249.7 86.8,244.0 88.4,247.5 89.9,243.0 91.4,249.5 92.9,242.5 94.4,247.2 95.9,245.0 97.4,251.3 98.9,245.6 100.5,253.9 102.0,249.5 103.5,255.9 105.0,247.6" fill="none" stroke="#ff0000" stroke-width="1.2" stroke-linejoin="round" />
<polyline points="50.0,267.8 51.0,269.1 51.9,265.7 52.9,267.6 53.8,266.5 54.8,268.2 55.7,266.6 56.7,268.5 57.6,266.6 58.5,268.4 59.5,266.0 60.4,264.7 61.4,265.0 62.3,266.0 63.3,264.4 64.2,265.9 65.2,265.6 66.1,266.7 67.1,268.6 68.0,270.4 68.9,272.4 69.9,273.5 70.8,271.9 71.8,273.1 72.7,272.4 74.0,271.0 75.2,268.7 76.5,268.7 77.8,269.4 79.0,269.1 80.3,266.6 81.3,267.3 82.3,270.4 84.1,274.9 85.3,267.2 86.6,264.5 87.9,262.4 89.1,261.9 90.4,260.0 91.6,256.8 92.9,255.6 94.2,254.3 95.4,256.1 96.7,260.6 97.9,263.1 99.2,265.7 100.5,261.3 101.7,258.2 103.0,256.0 104.2,255.2" fill="none" stroke="#000" stroke-width="1.2" stroke-linejoin="round" />
<polyline points="113.1,246.4 113.9,253.2 114.7,247.6" fill="none" stroke="#ff0000" stroke-width="1.2" stroke-linejoin="round" />
<polyline points="118.9,251.4 120.2,246.4 121.7,248.1 123.2,245.6 124.7,245.1" fill="none" stroke="#ff0000" stroke-width="1.2" stroke-linejoin="round" />
<polyline points="126.3,246.4 127.5,252.7 128.5,245.1" fill="none" stroke="#ff0000" stroke-width="1.2" stroke-linejoin="round" />
<polyline points="114.2,247.6 114.9,260.8 115.7,250.2" fill="none" stroke="#000" stroke-width="1.2" stroke-linejoin="round" />
<polyline points="121.2,248.1 123.2,246.6" fill="none" stroke="#000" stroke-width="1.2" stroke-linejoin="round" />
<polyline points="127.3,253.9 128.3,245.1 129.0,236.3" fill="none" stroke="#000" stroke-width="1.2" stroke-linejoin="round" />
<polyline points="129.3,252.2 130.3,253.9 131.1,251.1 132.0,251.3 132.8,250.1 133.7,251.0 134.5,248.8 135.3,248.6 136.2,248.4 137.0,247.3 137.9,247.9 138.7,248.4 139.5,248.1 140.4,246.8 141.2,248.8 142.1,247.1 142.9,246.8 143.7,248.4 144.6,250.0 145.4,252.5 146.3,252.2 147.1,253.0 147.9,256.1 148.8,254.1 149.6,253.7 150.5,253.8 151.3,256.0 152.1,255.3 153.0,255.6 153.8,256.6 154.7,257.3 155.5,258.1 156.3,258.5 157.2,256.3 158.0,253.3 158.9,252.8 159.7,254.5 160.5,253.0 161.4,252.9 162.2,253.8 163.1,254.8 163.9,252.3 164.7,252.7 165.6,250.6 166.4,252.2 167.3,252.3 168.1,253.7 168.9,254.5 169.8,255.4 170.6,257.2 171.5,255.6 172.3,254.2 173.1,255.8 174.0,255.6 174.8,254.6 175.7,252.3 176.5,251.8 177.3,252.6 178.2,250.7 179.2,248.8 180.2,248.9" fill="none" stroke="#000" stroke-width="1.2" stroke-linejoin="round" />
<polyline points="175.0,252.7 177.5,251.4 179.5,249.7" fill="none" stroke="#000" stroke-width="1.2" stroke-dasharray="3 1.5" stroke-linejoin="round" />
<polyline points="193.9,262.8 195.2,265.7 196.4,270.9 197.7,258.5 198.9,265.6 200.2,260.7 201.5,262.7 202.7,263.8 204.0,263.1 205.2,263.0 206.5,263.1 207.8,261.7 209.0,263.5 210.3,265.1 211.6,266.4 212.8,268.1 213.8,270.2 214.8,272.9 216.6,265.5 218.4,270.5 219.4,270.0 220.4,271.3 221.6,272.7 222.9,272.9 224.2,274.2 225.4,273.6 226.7,273.9 227.9,274.9 229.2,273.1 230.5,269.9 231.5,267.1 232.5,262.7 233.7,261.1 235.0,260.7 236.3,259.2 237.5,260.3 238.8,258.6 240.0,258.1 241.3,257.1 242.6,257.2 243.8,257.6 245.1,256.1 246.3,257.8 247.6,258.9 248.9,259.8 250.1,261.0 251.9,265.3" fill="none" stroke="#000" stroke-width="1.2" stroke-linejoin="round" />
<polyline points="129.3,242.6 130.3,249.1 131.8,245.1 133.3,247.1 134.8,243.4 136.3,248.2 137.9,243.9 139.4,246.9 140.9,245.4 142.4,249.6 143.9,244.0 145.4,245.7 146.9,244.2 148.4,248.0 150.0,243.8 151.5,245.9 153.0,242.7 154.5,246.5 156.0,242.5 157.5,246.8 159.0,244.7 160.5,249.2 162.1,244.8 163.6,246.4 165.1,244.3 166.6,246.7 168.1,242.5 169.6,244.3 171.1,241.6 172.6,245.9 174.2,244.0 175.7,248.1 177.2,242.8 178.7,245.5 180.2,242.4 181.7,244.6 183.2,247.6 182.1,246.7 180.9,247.0 179.8,248.4 178.7,247.0 177.5,247.2 178.8,244.1 180.0,242.8 181.0,242.6 182.1,240.8 183.8,247.6 185.1,249.3 186.3,251.2 187.6,252.1 188.9,253.8 190.6,254.8 192.1,263.3 193.9,270.0 195.2,272.9 196.4,275.6 197.7,274.4 198.9,272.8 200.2,271.0 201.5,269.6 202.7,267.8 204.0,267.4 205.2,266.1 206.5,265.6 207.8,263.9 209.0,262.6 210.3,262.5 211.6,263.6 212.8,266.2 214.1,267.5 215.8,270.3 217.3,259.9 219.1,256.2 220.9,262.4 222.4,272.1 223.7,272.5 224.9,272.8 226.2,271.0 227.4,270.8 228.7,267.9 230.0,264.8 231.2,261.5 232.5,259.6 233.7,256.7 235.0,255.1 236.3,252.5 237.5,251.9 238.8,251.5 240.0,252.8 241.8,246.7 243.6,247.7 244.6,244.2 245.6,241.3" fill="none" stroke="#ff0000" stroke-width="1.2" stroke-linejoin="round" />
<polyline points="243.3,242.5 244.1,244.2 244.9,243.7 245.7,244.1 246.6,244.8 247.4,245.8 248.2,246.7" fill="none" stroke="#ff0000" stroke-width="1.2" stroke-linejoin="round" />
<polyline points="250.7,245.4 251.5,244.0 252.3,244.8 253.1,244.5" fill="none" stroke="#ff0000" stroke-width="1.2" stroke-linejoin="round" />
<polyline points="257.2,245.7 258.0,245.1 258.9,244.1 259.7,244.3 260.5,245.9 261.3,244.8" fill="none" stroke="#ff0000" stroke-width="1.2" stroke-linejoin="round" />
<polyline points="272.0,244.1 272.8,245.0 273.6,243.1 274.4,243.8 275.2,245.6 276.1,244.6 276.9,246.9 277.7,246.6 278.9,249.3 280.0,249.6 280.9,249.0 281.7,246.7 282.6,244.9 283.4,244.1 284.3,245.1 285.1,243.9 285.9,243.4 286.7,242.7 287.5,241.6 288.4,241.4" fill="none" stroke="#ff0000" stroke-width="1.2" stroke-linejoin="round" />
<polyline points="290.8,239.8 291.6,241.2 292.5,241.0 293.3,242.1 294.1,242.1 294.9,243.3 295.7,243.2 296.6,243.2" fill="none" stroke="#ff0000" stroke-width="1.2" stroke-linejoin="round" />
<polyline points="299.8,245.9 300.7,245.0 301.5,244.8 302.3,245.7 303.1,245.6 303.9,244.6 304.8,245.3 305.6,243.1 306.4,242.6 307.3,242.3 308.2,240.8 309.0,240.2 309.8,239.2" fill="none" stroke="#ff0000" stroke-width="1.2" stroke-linejoin="round" />
<polyline points="243.9,257.9 244.8,258.2 245.7,260.0 246.6,260.6 247.4,260.1 248.2,262.0" fill="none" stroke="#000" stroke-width="1.2" stroke-linejoin="round" />
<polyline points="250.7,263.1 251.6,265.5 252.5,266.0" fill="none" stroke="#000" stroke-width="1.2" stroke-linejoin="round" />
<polyline points="257.2,263.9 258.0,265.6 258.9,264.8 259.7,263.1 260.5,263.2 261.4,261.8 262.3,262.1" fill="none" stroke="#000" stroke-width="1.2" stroke-linejoin="round" />
<polyline points="272.0,262.7 272.8,261.6 273.6,262.3 274.4,262.6 275.2,260.5 276.1,261.1 276.9,260.7 277.7,260.4 278.5,261.4 279.3,261.5 280.2,261.0 281.0,260.1 281.8,261.1 282.6,259.7 283.4,260.6 284.3,260.8 285.1,260.1 285.9,261.2 286.7,260.9 287.5,260.9 288.4,260.3" fill="none" stroke="#000" stroke-width="1.2" stroke-linejoin="round" />
<polyline points="290.8,260.6 291.6,262.2 292.5,261.3 293.3,262.2 294.1,262.7 294.9,263.1 295.7,263.3 296.6,261.8" fill="none" stroke="#000" stroke-width="1.2" stroke-linejoin="round" />
<polyline points="299.8,260.8 300.7,260.8 301.5,260.0 302.3,260.5 303.1,259.4 303.9,259.3 304.8,258.4 305.6,257.7 306.4,257.2 307.2,256.0 308.1,255.1 309.0,254.0 309.8,253.6" fill="none" stroke="#000" stroke-width="1.2" stroke-linejoin="round" />
<polyline points="50.5,305.6 52.1,301.9 53.6,308.2 55.1,311.1 56.6,304.1 58.1,306.6 59.6,302.1 61.1,299.3 62.6,303.4 64.2,299.2 65.7,302.9 67.2,306.4 68.7,300.8 70.2,305.7 71.7,299.6 73.2,306.3 74.7,298.4 76.3,303.0 77.8,296.6 79.3,309.8 80.8,297.3 82.3,304.3 83.8,297.8 85.3,309.4 86.8,304.3 88.4,307.8 89.9,303.0 91.4,309.4 92.9,301.4 94.4,308.5 95.9,304.0 97.4,311.1 98.9,305.1 100.5,313.6 102.0,309.2 103.5,314.5 105.0,307.7" fill="none" stroke="#000" stroke-width="1.2" stroke-linejoin="round" />
<polyline points="50.5,317.2 52.1,318.0 53.6,317.6 55.1,318.5 56.3,318.5 57.6,319.2 58.9,319.0 60.1,317.9 61.4,317.9 62.6,317.4 63.9,318.0 65.2,317.8 66.4,317.3 67.7,317.3 68.9,317.7 70.2,317.8 71.5,317.9 72.7,317.5 74.0,317.6 75.2,317.3 76.5,317.3 77.8,317.2 79.0,317.7 80.3,317.8 81.6,317.8 82.8,318.0 84.1,317.4 85.3,317.4 86.6,317.6 87.9,318.1 89.1,317.7 90.4,317.9 91.6,318.1 92.9,318.5 94.2,318.4 95.4,318.6 96.7,318.7 97.9,318.3 99.2,319.3 100.5,320.0 102.0,318.6 103.5,320.6 105.0,318.8" fill="none" stroke="#ff0000" stroke-width="1.2" stroke-linejoin="round" />
<polyline points="113.7,305.6 114.4,311.9 115.2,316.2" fill="none" stroke="#000" stroke-width="1.2" stroke-linejoin="round" />
<polyline points="118.7,309.7 120.2,307.7" fill="none" stroke="#000" stroke-width="1.2" stroke-linejoin="round" />
<polyline points="121.7,307.2 124.2,308.7" fill="none" stroke="#000" stroke-width="1.2" stroke-linejoin="round" />
<polyline points="126.3,311.9 127.8,316.2 128.8,308.7" fill="none" stroke="#000" stroke-width="1.2" stroke-linejoin="round" />
<polyline points="113.4,318.8 115.2,319.3" fill="none" stroke="#ff0000" stroke-width="1.2" stroke-linejoin="round" />
<polyline points="118.7,319.5 121.2,318.8" fill="none" stroke="#ff0000" stroke-width="1.2" stroke-linejoin="round" />
<polyline points="122.7,319.0 125.2,319.5" fill="none" stroke="#ff0000" stroke-width="1.2" stroke-linejoin="round" />
<polyline points="126.5,320.0 128.5,320.8" fill="none" stroke="#ff0000" stroke-width="1.2" stroke-linejoin="round" />
<polyline points="129.0,308.2 130.3,306.8 131.1,304.9 132.0,305.9 132.8,303.1 133.7,302.5 134.5,305.7 135.3,304.7 136.6,300.0 137.4,300.3 138.3,303.6 139.1,305.1 140.4,307.1 141.2,304.6 142.1,305.6 142.9,303.9 143.7,302.1 144.6,301.5 145.4,302.2 146.3,304.0 147.1,304.2 147.9,303.9 148.8,303.1 149.6,300.5 150.5,300.8 151.3,300.8 152.1,301.9 153.0,301.8 153.8,301.6 154.7,305.0 155.5,303.4 156.3,303.0 157.2,302.1 158.0,302.9 158.9,301.7 159.7,304.7 160.5,306.6 161.4,305.6 162.2,306.3 163.1,304.2 163.9,303.7 164.7,303.1 165.6,302.8 166.4,301.7 167.3,299.9 168.1,301.7 168.9,301.9 169.8,302.1 170.6,301.9 171.5,302.0 172.3,303.4 173.1,306.7 174.0,306.0 174.8,303.8 175.7,303.7 176.5,304.4 177.3,300.6 178.2,301.6 179.0,303.2 179.9,304.7 180.7,307.0 181.5,305.3 182.4,303.9 183.2,305.2 184.2,304.7 185.1,305.6" fill="none" stroke="#000" stroke-width="1.2" stroke-linejoin="round" />
<polyline points="185.1,305.6 186.3,302.6 187.6,306.9 188.9,310.7" fill="none" stroke="#000" stroke-width="1.2" stroke-dasharray="4 1.5" stroke-linejoin="round" />
<polyline points="129.0,317.2 130.9,316.8 132.8,316.6 134.7,316.5 136.6,317.0 138.3,316.1 140.0,316.7 141.6,316.1 144.2,314.9 145.7,315.0 147.3,314.5 148.9,315.0 150.5,314.8 152.0,314.5 153.5,315.2 155.0,315.0 156.5,315.3 158.0,315.0 159.5,315.3 161.0,314.7 162.6,314.7 164.1,314.7 165.6,314.7 167.1,315.0 168.6,314.6 170.1,314.5 171.6,315.1 173.1,314.9 174.7,314.7 176.2,314.7 177.7,315.2 179.2,315.2 180.7,315.1 182.1,315.1 183.6,315.1 185.0,315.2" fill="none" stroke="#ff0000" stroke-width="1.2" stroke-linejoin="round" />
<polyline points="180.0,315.7 185.1,317.0 190.1,318.2" fill="none" stroke="#ff0000" stroke-width="1.2" stroke-dasharray="4 1.5" stroke-linejoin="round" />
<polyline points="190.6,318.2 191.6,309.3 192.6,315.5 193.9,326.2 195.7,332.0 196.7,330.9 197.7,329.7 198.9,327.4 200.2,326.0 201.5,327.3 202.7,326.5 204.0,325.3 205.2,323.0 206.3,321.7 207.3,319.7 209.0,322.7 210.3,323.1 211.6,324.6 212.8,326.6 214.1,327.4 215.8,330.0 217.3,317.8 219.1,313.0 220.4,318.3 221.9,328.2 223.0,329.0 224.2,331.4 225.4,329.9 226.7,328.2 227.9,327.0 229.2,326.1 230.5,324.5 231.7,322.4 233.5,315.5 234.5,315.5 235.5,313.5 236.5,311.5 237.5,310.3 239.3,313.1 241.0,309.1 242.6,306.1 244.3,306.3 246.1,301.0 247.1,301.2 248.1,303.5 249.4,303.6 250.6,303.9 251.9,306.0 253.1,305.6" fill="none" stroke="#000" stroke-width="1.2" stroke-linejoin="round" />
<polyline points="190.6,317.7 192.1,320.4 193.9,328.3 195.7,334.4 197.2,335.8 198.9,331.9 200.2,330.8 201.5,328.4 202.7,328.4 204.0,328.2 205.2,326.2 206.5,324.5 208.3,321.7 209.3,324.1 210.3,324.9 211.6,326.0 212.8,326.8 214.1,329.3 215.3,330.8 216.3,325.2 217.3,319.5 219.1,316.0 220.9,321.2 222.4,330.7 223.7,332.4 224.9,333.1 226.2,331.5 227.4,330.0 228.7,327.9 230.0,326.9 231.2,325.2 232.5,323.1 233.7,321.1 235.0,319.2 236.0,319.7 237.0,319.4 238.0,318.6 239.3,318.4 240.5,317.7 241.8,317.1 243.1,316.9 244.3,315.6 245.6,315.7" fill="none" stroke="#ff0000" stroke-width="1.2" stroke-linejoin="round" />
<polyline points="243.3,302.8 244.1,304.0 244.9,305.2 245.7,305.7 246.6,306.5 247.4,303.9 248.3,303.3" fill="none" stroke="#000" stroke-width="1.2" stroke-linejoin="round" />
<polyline points="250.3,302.7 251.5,304.8 252.3,304.6 253.1,306.2" fill="none" stroke="#000" stroke-width="1.2" stroke-linejoin="round" />
<polyline points="257.2,303.6 258.0,304.0 258.9,302.8 259.7,303.0 260.5,302.3 261.3,302.8" fill="none" stroke="#000" stroke-width="1.2" stroke-linejoin="round" />
<polyline points="272.0,302.0 272.8,304.3 273.6,305.3 274.4,304.3 275.2,305.2 276.1,303.4 276.9,303.5 277.7,303.4 278.9,305.7 280.0,309.5 280.9,307.5 281.7,305.1 282.6,304.3 283.4,302.6 284.3,301.7 285.1,301.4 285.9,301.0 286.7,301.5 287.5,298.5 288.4,299.6" fill="none" stroke="#000" stroke-width="1.2" stroke-linejoin="round" />
<polyline points="290.8,298.6 291.6,299.0 292.5,300.2 293.3,299.7 294.1,302.9 294.9,302.9 295.7,303.3 296.6,303.6" fill="none" stroke="#000" stroke-width="1.2" stroke-linejoin="round" />
<polyline points="299.8,304.4 300.7,305.0 301.5,306.5 302.3,305.2 303.1,306.2 303.9,304.0 304.8,302.3 305.6,302.9 306.4,303.2 307.3,302.0 308.2,301.5 309.0,300.1 309.8,299.5" fill="none" stroke="#000" stroke-width="1.2" stroke-linejoin="round" />
<polyline points="243.9,316.2 244.8,316.3 245.6,315.9 246.4,315.9 247.3,316.1 248.1,315.9" fill="none" stroke="#ff0000" stroke-width="1.2" stroke-linejoin="round" />
<polyline points="250.6,316.2 251.4,315.9 252.3,316.1 253.1,315.9" fill="none" stroke="#ff0000" stroke-width="1.2" stroke-linejoin="round" />
<polyline points="257.3,315.8 258.1,315.8 259.0,315.8 259.8,315.7 260.6,315.7 261.5,315.8 262.3,315.9" fill="none" stroke="#ff0000" stroke-width="1.2" stroke-linejoin="round" />
<polyline points="272.0,316.2 272.8,315.8 273.6,316.0 274.4,315.8 275.2,316.4 276.1,315.9 276.9,316.3 277.7,316.2 278.5,316.8 279.3,317.1 280.2,317.6 281.0,318.1 281.8,317.3 282.6,316.9 283.4,316.3 284.3,316.0 285.1,315.8 285.9,315.4 286.7,315.3 287.5,315.5 288.4,315.9" fill="none" stroke="#ff0000" stroke-width="1.2" stroke-linejoin="round" />
<polyline points="290.8,315.5 291.6,315.0 292.5,315.3 293.3,315.6 294.1,315.6 294.9,315.1 295.7,315.8 296.6,315.3" fill="none" stroke="#ff0000" stroke-width="1.2" stroke-linejoin="round" />
<polyline points="299.8,315.9 300.7,316.0 301.5,316.0 302.3,315.8 303.1,316.2 304.0,316.0 304.8,315.8 305.6,315.6 306.5,316.1 307.3,316.2 308.2,316.1 309.0,316.0 309.8,315.9" fill="none" stroke="#ff0000" stroke-width="1.2" stroke-linejoin="round" />
<polyline points="51.4,377.4 53.0,375.2 54.7,379.5 56.4,379.3 58.1,383.1 59.8,379.2 61.4,378.9 63.1,378.4 64.8,375.7 66.5,374.4 68.2,377.3 69.8,377.6 71.5,378.0 73.2,375.3 74.9,377.5 76.6,375.7 78.3,375.3 79.9,377.2 81.6,376.9 83.3,377.7 85.0,377.0 86.7,377.3 88.3,379.7 90.0,380.3 91.7,377.2 93.4,381.3 95.1,383.1 96.7,379.6 98.4,381.7 100.1,383.1 101.8,385.0 103.1,384.9 104.3,379.9" fill="none" stroke="#0000ff" stroke-width="1.2" stroke-linejoin="round" />
<polyline points="51.4,373.2 52.7,368.6 53.9,379.4 55.6,374.6 57.2,369.4 58.9,373.3 60.6,371.2 62.3,374.7 64.0,372.9 65.6,373.5 67.3,376.3 69.0,373.8 70.3,372.9 71.5,373.7 72.8,373.9 74.1,372.9 75.3,371.5 76.6,374.1 77.8,372.8 79.1,373.7 80.4,371.5 81.6,373.5 82.9,371.3 84.1,373.0 85.4,371.2 86.7,371.1 88.3,373.2 90.0,370.9 91.7,373.6 93.4,366.1 94.7,374.9 96.4,367.3 97.6,377.0 98.8,366.0 100.1,380.1 101.4,368.9 102.6,362.8 103.5,382.5 104.8,373.2" fill="none" stroke="#ff0000" stroke-width="1.2" stroke-linejoin="round" />
<polyline points="51.4,369.8 53.0,367.0 54.3,368.2 55.6,369.1 56.8,369.2 58.1,369.7 59.3,370.1 60.6,370.7 61.9,369.5 63.1,369.2 64.4,369.9 65.6,371.6 66.9,369.4 68.2,369.9 69.4,369.8 70.7,369.9 71.9,369.5 73.2,370.1 74.5,371.3 75.7,370.8 77.0,370.3 78.3,372.1 79.5,372.3 80.8,371.1 82.0,372.2 83.3,372.2 84.6,372.3 85.8,370.3 87.1,369.1 88.3,369.5 90.0,371.2 91.7,372.8 93.4,369.1 94.6,368.9 95.9,366.1 97.6,368.5 99.3,363.3 100.9,359.1 102.1,358.5 103.5,360.8 104.8,364.8" fill="none" stroke="#00ff00" stroke-width="1.2" stroke-linejoin="round" />
<polyline points="51.4,368.2 53.0,366.0 54.3,366.1 55.6,366.1 56.8,366.2 58.1,367.1 59.3,368.8 60.6,369.5 61.9,368.7 63.1,368.9 64.4,369.2 65.6,370.0 66.9,369.2 68.2,368.8 69.4,369.3 70.7,369.0 71.9,369.0 73.2,368.1 74.5,369.3 75.7,368.9 77.0,370.1 78.3,369.4 79.5,369.3 80.8,370.4 82.0,370.1 83.3,368.5 84.6,369.0 85.8,367.7 87.1,367.5 88.3,366.2 89.6,365.9 90.9,365.0 92.1,364.1 93.4,363.4 94.6,364.7 95.9,365.3 97.6,361.0 99.3,358.3 100.9,355.6 102.1,354.6 103.5,358.3 104.3,361.6 105.1,364.0" fill="none" stroke="#000" stroke-width="1.2" stroke-linejoin="round" />
<polyline points="113.8,371.5 114.8,377.4 116.0,373.2" fill="none" stroke="#0000ff" stroke-width="1.2" stroke-linejoin="round" />
<polyline points="118.5,373.2 120.2,379.9 121.9,376.6 123.6,374.9 124.9,376.6" fill="none" stroke="#0000ff" stroke-width="1.2" stroke-linejoin="round" />
<polyline points="126.1,378.3 127.3,381.6 128.3,384.1 129.1,379.9" fill="none" stroke="#0000ff" stroke-width="1.2" stroke-linejoin="round" />
<polyline points="113.8,373.2 115.2,378.3 116.2,374.9" fill="none" stroke="#ff0000" stroke-width="1.2" stroke-linejoin="round" />
<polyline points="118.5,371.5 119.9,383.3 121.1,373.2 122.2,379.9 123.6,369.8 124.9,373.2" fill="none" stroke="#ff0000" stroke-width="1.2" stroke-linejoin="round" />
<polyline points="126.1,369.8 127.3,374.9 128.3,368.2 129.3,373.2" fill="none" stroke="#ff0000" stroke-width="1.2" stroke-linejoin="round" />
<polyline points="113.8,369.8 114.8,364.8 116.0,366.5" fill="none" stroke="#00ff00" stroke-width="1.2" stroke-linejoin="round" />
<polyline points="118.5,366.5 119.9,360.6 121.1,364.8 122.2,359.8 123.6,363.1 124.9,368.2" fill="none" stroke="#00ff00" stroke-width="1.2" stroke-linejoin="round" />
<polyline points="126.1,361.4 127.3,356.4 128.3,363.1" fill="none" stroke="#00ff00" stroke-width="1.2" stroke-linejoin="round" />
<polyline points="113.5,364.0 114.3,360.6 115.5,359.8 116.5,362.3" fill="none" stroke="#000" stroke-width="1.2" stroke-linejoin="round" />
<polyline points="118.5,359.8 120.2,358.1 121.9,358.9 123.6,358.1 124.9,360.6" fill="none" stroke="#000" stroke-width="1.2" stroke-linejoin="round" />
<polyline points="126.1,356.4 127.3,353.0 128.3,358.1 128.9,364.8" fill="none" stroke="#000" stroke-width="1.2" stroke-linejoin="round" />
<polyline points="129.5,376.6 131.1,378.1 132.8,376.4 134.5,376.3 136.2,379.7 137.9,378.7 139.5,377.8 141.2,378.2 142.9,376.1 144.2,376.8 145.4,375.3 146.5,374.0 147.7,375.9 148.8,373.6 149.9,372.7 151.0,373.6 152.1,374.9 153.1,376.6 154.0,374.9 155.0,376.1 155.9,374.8 156.8,374.6 158.1,378.0 159.3,376.7 160.4,377.3 161.6,378.9 162.7,378.2 163.9,379.3 165.2,376.1 166.3,378.1 167.5,374.7 168.6,375.6 169.7,375.3 170.8,376.7 171.9,375.5 173.1,374.3 174.2,374.8 175.3,373.9 176.6,376.5 177.8,374.8 179.1,375.8 180.3,377.5 182.0,374.8 183.3,376.2 184.5,373.2" fill="none" stroke="#0000ff" stroke-width="1.2" stroke-linejoin="round" />
<polyline points="129.5,371.5 130.6,376.2 132.0,369.4 133.3,374.9 134.7,368.5 136.0,374.7 137.4,366.6 138.7,374.4 140.0,369.1 141.4,375.7 142.7,370.4 143.7,374.8 144.6,374.2 146.3,372.3 147.9,372.9 149.6,372.8 150.9,373.6 152.1,374.3 153.1,375.9 154.0,374.6 155.0,372.8 156.0,375.6 157.6,367.8 159.3,376.9 161.0,370.4 162.7,376.3 164.4,371.9 166.1,377.3 167.7,369.6 169.4,376.3 171.1,372.0 172.8,374.7 174.5,371.3 176.1,373.8 177.8,370.2 179.5,376.5 181.2,370.9 182.9,374.9 184.5,372.8 185.7,377.7 186.7,379.9" fill="none" stroke="#ff0000" stroke-width="1.2" stroke-linejoin="round" />
<polyline points="129.5,368.2 131.1,366.1 132.8,368.7 134.5,365.2 136.2,368.7 137.9,365.0 139.5,367.3 141.2,364.9 142.9,370.0 144.2,368.9 145.4,370.1 146.5,370.1 147.7,371.4 148.8,369.9 149.9,371.6 151.0,369.2 152.1,370.4 153.1,370.1 154.0,371.3 155.0,370.2 155.9,369.6 156.8,368.8 157.9,370.7 159.0,370.4 160.2,370.2 161.3,369.3 162.4,368.4 163.5,368.5 164.6,369.9 165.8,370.3 166.9,371.5 168.0,369.9 169.1,371.8 170.3,371.5 171.4,371.1 172.5,370.8 173.6,370.4 174.7,369.0 175.9,370.3 177.0,370.0 178.2,370.6 179.5,369.1 181.2,365.8 182.9,367.2 184.5,366.1 186.2,368.2" fill="none" stroke="#00ff00" stroke-width="1.2" stroke-linejoin="round" />
<polyline points="129.5,365.6 131.1,365.1 132.8,365.3 134.5,365.2 136.2,365.0 137.9,363.7 139.5,364.7 141.2,363.5 142.9,367.9 144.6,369.1 145.8,369.7 147.1,369.2 148.4,369.6 149.6,368.9 150.9,369.1 152.1,369.3 153.1,368.3 154.0,368.0 155.0,368.1 155.9,368.7 156.8,367.7 157.9,367.9 159.0,366.4 160.2,366.7 161.3,367.3 162.4,366.8 163.5,367.1 164.6,367.0 165.8,367.4 166.9,368.0 168.0,368.6 169.1,369.3 170.3,368.8 171.4,369.5 172.5,368.2 173.6,368.5 174.7,368.8 175.9,368.9 177.0,368.5 178.2,368.8 179.5,367.8 180.7,365.1 182.0,363.5 183.3,364.3 184.5,364.7 185.7,364.6 186.8,364.0 187.9,364.4 189.2,364.9 190.4,364.8" fill="none" stroke="#000" stroke-width="1.2" stroke-linejoin="round" />
<polyline points="187.9,379.1 190.4,378.3" fill="none" stroke="#ff0000" stroke-width="1.2" stroke-dasharray="2 1.5" stroke-linejoin="round" />
<polyline points="187.9,365.6 190.4,364.8" fill="none" stroke="#00ff00" stroke-width="1.2" stroke-linejoin="round" />
<polyline points="192.2,371.5 194.7,374.5 197.6,375.5 201.6,375.8 205.5,377.4 209.4,378.4 213.3,379.0 217.3,379.4 221.2,379.0 225.1,379.4 229.0,379.0 232.9,378.4 236.9,378.4 240.8,377.4 242.7,376.4" fill="none" stroke="#0000ff" stroke-width="1.2" stroke-linejoin="round" />
<polyline points="192.2,372.5 194.7,375.5 197.6,377.4 201.6,378.4 205.5,380.4 209.4,381.3 213.3,381.7 217.3,381.3 221.2,380.4 225.1,380.9 229.0,380.4 232.0,378.4 234.9,377.4 238.8,377.4 240.8,375.5" fill="none" stroke="#00ff00" stroke-width="1.2" stroke-linejoin="round" />
<polyline points="191.8,367.6 192.4,380.4 193.7,381.3 197.6,381.7 201.6,381.3 205.5,380.4 209.4,378.4 213.3,376.4 216.3,374.5 219.2,372.5 222.2,371.1 225.1,370.5 228.0,369.6 231.0,367.6 233.9,367.2 236.9,366.6 238.8,366.0 240.8,369.6 242.7,373.5" fill="none" stroke="#ff0000" stroke-width="1.2" stroke-linejoin="round" />
<polyline points="187.8,364.7 189.8,365.3 192.2,366.0 197.6,365.3 203.5,364.7 209.4,364.1 215.3,363.7 221.2,364.7 227.1,365.6 232.9,366.6 238.8,367.2 242.7,366.6 244.7,364.7 246.7,367.6 248.6,368.6" fill="none" stroke="#000" stroke-width="1.2" stroke-linejoin="round" />
<polyline points="245.9,374.5 247.1,374.2 248.3,375.8 249.5,376.7 250.5,378.0 251.6,375.7 252.6,376.2" fill="none" stroke="#0000ff" stroke-width="1.2" stroke-linejoin="round" />
<polyline points="245.9,373.7 247.1,373.7 248.3,376.5 249.5,371.8 250.5,372.8 251.6,370.2 252.6,373.7" fill="none" stroke="#ff0000" stroke-width="1.2" stroke-linejoin="round" />
<polyline points="245.9,369.5 247.1,371.5 248.3,368.4 249.5,372.2 250.5,370.3 251.6,368.9 252.6,371.2" fill="none" stroke="#00ff00" stroke-width="1.2" stroke-linejoin="round" />
<polyline points="245.9,367.3 247.1,367.3 248.3,368.6 249.5,369.5 250.5,368.5 251.6,369.5 252.6,369.0" fill="none" stroke="#000" stroke-width="1.2" stroke-linejoin="round" />
<polyline points="255.8,376.2 256.7,376.2 257.6,376.0 258.5,376.4 259.4,375.8 260.3,377.5 261.2,374.9 262.1,376.2" fill="none" stroke="#0000ff" stroke-width="1.2" stroke-linejoin="round" />
<polyline points="255.8,373.7 256.8,375.5 257.9,376.9 258.9,370.1 260.0,369.8 261.0,377.5 262.1,373.7" fill="none" stroke="#ff0000" stroke-width="1.2" stroke-linejoin="round" />
<polyline points="255.8,371.2 256.7,369.5 257.6,369.7 258.5,372.8 259.4,371.4 260.3,370.2 261.2,370.4 262.1,371.2" fill="none" stroke="#00ff00" stroke-width="1.2" stroke-linejoin="round" />
<polyline points="255.8,369.0 256.7,368.6 257.6,368.4 258.5,369.2 259.4,369.1 260.3,369.2 261.2,368.8 262.1,369.0" fill="none" stroke="#000" stroke-width="1.2" stroke-linejoin="round" />
<polyline points="271.5,376.2 272.6,374.3 273.6,375.1 274.7,374.7 275.7,376.0 276.8,374.4 277.8,375.3 278.9,375.4 279.9,374.4 281.0,376.6 282.0,374.5 283.1,374.7 284.1,373.5 285.2,374.9 286.2,377.0 287.3,375.1 288.3,375.3 289.4,376.9 290.4,376.7 291.5,377.2 292.5,377.2 293.6,375.7 294.6,374.6 295.7,375.9 296.7,375.1 297.8,375.7 298.8,375.3 299.9,374.9 300.9,372.9 302.0,372.3 303.0,372.8 304.1,374.6 305.1,374.2 306.2,373.0 307.2,373.7 308.3,376.6 309.3,375.2" fill="none" stroke="#0000ff" stroke-width="1.2" stroke-linejoin="round" />
<polyline points="271.5,373.7 272.6,371.4 273.6,374.2 274.7,370.6 275.7,376.9 276.8,372.3 277.8,373.4 278.9,375.8 279.9,375.6 281.0,374.3 282.0,375.1 283.1,373.9 284.1,376.4 285.2,371.6 286.2,374.6 287.3,374.5 288.3,373.4 289.4,373.4 290.4,369.8 291.5,374.2 292.5,373.4 293.6,374.6 294.6,373.3 295.7,375.7 296.7,375.1 297.8,374.8 298.8,372.4 299.9,373.0 300.9,375.8 302.0,372.5 303.0,372.1 304.1,372.8 305.1,370.9 306.2,375.2 307.2,375.0 308.3,371.6 309.3,373.7" fill="none" stroke="#ff0000" stroke-width="1.2" stroke-linejoin="round" />
<polyline points="271.5,371.2 272.6,370.2 273.6,369.3 274.7,371.6 275.7,369.8 276.8,368.8 277.8,370.1 278.9,371.4 279.9,370.7 281.0,368.2 282.0,372.1 283.1,368.4 284.1,368.4 285.2,369.1 286.2,370.9 287.3,372.4 288.3,370.2 289.4,371.3 290.4,372.1 291.5,374.0 292.5,371.0 293.6,373.8 294.6,370.3 295.7,372.3 296.7,369.5 297.8,372.5 298.8,371.6 299.9,371.4 300.9,368.5 302.0,369.9 303.0,368.2 304.1,365.7 305.1,368.5 306.2,368.8 307.2,368.9 308.3,369.8 309.3,370.2" fill="none" stroke="#00ff00" stroke-width="1.2" stroke-linejoin="round" />
<polyline points="271.5,369.0 272.6,367.9 273.6,367.7 274.7,367.7 275.7,366.5 276.8,366.9 277.8,367.5 278.9,367.8 279.9,367.9 281.0,368.2 282.0,367.2 283.1,367.4 284.1,367.7 285.2,368.4 286.2,369.4 287.3,368.9 288.3,370.1 289.4,370.3 290.4,369.4 291.5,370.8 292.5,370.0 293.6,369.8 294.6,369.1 295.7,369.1 296.7,369.3 297.8,368.1 298.8,368.2 299.9,367.3 300.9,366.2 302.0,365.8 303.0,365.2 304.1,365.5 305.1,366.2 306.2,366.8 307.2,367.8 308.3,368.1 309.3,368.0" fill="none" stroke="#000" stroke-width="1.2" stroke-linejoin="round" />
<line x1="51.20" y1="373.40" x2="309.60" y2="373.40" stroke="#000" stroke-width="1.0" />
<polyline points="51.2,417.5 83.0,417.5 83.6,422.5 121.0,422.5 121.8,426.5 160.6,426.5 161.4,431.5 199.0,431.5 199.8,436.5 237.8,436.5 238.6,440.5 276.4,440.5 277.2,445.5 309.6,445.5" fill="none" stroke="#000" stroke-width="1.15" stroke-linejoin="round" />
<polyline points="51.2,412.5 56.3,412.5 57.2,414.5 82.6,414.5 83.6,416.5 96.0,416.5 97.2,419.5 120.2,419.5 121.2,421.5 134.0,421.5 135.2,424.5 159.6,424.5 160.8,426.5 173.6,426.5 174.8,428.5 198.8,428.5 200.0,431.5 224.0,431.5 225.2,433.5 237.6,433.5 238.8,436.5 263.2,436.5 264.4,438.5 275.8,438.5 277.0,440.5 301.4,440.5 302.6,442.5 309.6,442.5" fill="none" stroke="#ff0000" stroke-width="1.2" stroke-linejoin="round" />
<line x1="51.20" y1="5.50" x2="51.20" y2="454.87" stroke="#000" stroke-width="1.15" />
<line x1="309.60" y1="5.50" x2="309.60" y2="454.87" stroke="#000" stroke-width="1.15" />
<line x1="50.70" y1="5.50" x2="310.10" y2="5.50" stroke="#000" stroke-width="1.15" />
<line x1="50.70" y1="52.50" x2="310.10" y2="52.50" stroke="#000" stroke-width="1.15" />
<line x1="50.70" y1="62.91" x2="310.10" y2="62.91" stroke="#000" stroke-width="1.15" />
<line x1="50.70" y1="109.91" x2="310.10" y2="109.91" stroke="#000" stroke-width="1.15" />
<line x1="50.70" y1="120.32" x2="310.10" y2="120.32" stroke="#000" stroke-width="1.15" />
<line x1="50.70" y1="167.32" x2="310.10" y2="167.32" stroke="#000" stroke-width="1.15" />
<line x1="50.70" y1="177.73" x2="310.10" y2="177.73" stroke="#000" stroke-width="1.15" />
<line x1="50.70" y1="224.73" x2="310.10" y2="224.73" stroke="#000" stroke-width="1.15" />
<line x1="50.70" y1="235.14" x2="310.10" y2="235.14" stroke="#000" stroke-width="1.15" />
<line x1="50.70" y1="282.14" x2="310.10" y2="282.14" stroke="#000" stroke-width="1.15" />
<line x1="50.70" y1="292.55" x2="310.10" y2="292.55" stroke="#000" stroke-width="1.15" />
<line x1="50.70" y1="339.55" x2="310.10" y2="339.55" stroke="#000" stroke-width="1.15" />
<line x1="50.70" y1="349.96" x2="310.10" y2="349.96" stroke="#000" stroke-width="1.15" />
<line x1="50.70" y1="396.96" x2="310.10" y2="396.96" stroke="#000" stroke-width="1.15" />
<line x1="50.70" y1="407.37" x2="310.10" y2="407.37" stroke="#000" stroke-width="1.15" />
<line x1="50.70" y1="454.37" x2="310.10" y2="454.37" stroke="#000" stroke-width="1.15" />
<line x1="129.40" y1="5.50" x2="129.40" y2="454.37" stroke="#000" stroke-width="1.0" />
<line x1="129.40" y1="5.50" x2="129.40" y2="52.50" stroke="#000" stroke-width="1.5" />
<line x1="129.40" y1="62.91" x2="129.40" y2="109.91" stroke="#000" stroke-width="1.5" />
<line x1="129.40" y1="120.32" x2="129.40" y2="167.32" stroke="#000" stroke-width="1.5" />
<line x1="129.40" y1="177.73" x2="129.40" y2="224.73" stroke="#000" stroke-width="1.5" />
<line x1="129.40" y1="235.14" x2="129.40" y2="282.14" stroke="#000" stroke-width="1.5" />
<line x1="129.40" y1="292.55" x2="129.40" y2="339.55" stroke="#000" stroke-width="1.5" />
<line x1="129.40" y1="349.96" x2="129.40" y2="396.96" stroke="#000" stroke-width="1.5" />
<line x1="129.40" y1="407.37" x2="129.40" y2="454.37" stroke="#000" stroke-width="1.5" />
<line x1="143.70" y1="5.50" x2="143.70" y2="454.37" stroke="#000" stroke-width="1.0" />
<line x1="180.50" y1="5.50" x2="180.50" y2="454.37" stroke="#000" stroke-width="1.1" stroke-dasharray="4.5 3" />
<line x1="51.20" y1="52.50" x2="51.20" y2="57.90" stroke="#000" stroke-width="1" />
<line x1="64.12" y1="52.50" x2="64.12" y2="55.30" stroke="#000" stroke-width="1" />
<line x1="77.04" y1="52.50" x2="77.04" y2="55.30" stroke="#000" stroke-width="1" />
<line x1="89.96" y1="52.50" x2="89.96" y2="55.30" stroke="#000" stroke-width="1" />
<line x1="102.88" y1="52.50" x2="102.88" y2="55.30" stroke="#000" stroke-width="1" />
<line x1="115.80" y1="52.50" x2="115.80" y2="57.90" stroke="#000" stroke-width="1" />
<line x1="128.72" y1="52.50" x2="128.72" y2="55.30" stroke="#000" stroke-width="1" />
<line x1="141.64" y1="52.50" x2="141.64" y2="55.30" stroke="#000" stroke-width="1" />
<line x1="154.56" y1="52.50" x2="154.56" y2="55.30" stroke="#000" stroke-width="1" />
<line x1="167.48" y1="52.50" x2="167.48" y2="55.30" stroke="#000" stroke-width="1" />
<line x1="180.40" y1="52.50" x2="180.40" y2="57.90" stroke="#000" stroke-width="1" />
<line x1="193.32" y1="52.50" x2="193.32" y2="55.30" stroke="#000" stroke-width="1" />
<line x1="206.24" y1="52.50" x2="206.24" y2="55.30" stroke="#000" stroke-width="1" />
<line x1="219.16" y1="52.50" x2="219.16" y2="55.30" stroke="#000" stroke-width="1" />
<line x1="232.08" y1="52.50" x2="232.08" y2="55.30" stroke="#000" stroke-width="1" />
<line x1="245.00" y1="52.50" x2="245.00" y2="57.90" stroke="#000" stroke-width="1" />
<line x1="257.92" y1="52.50" x2="257.92" y2="55.30" stroke="#000" stroke-width="1" />
<line x1="270.84" y1="52.50" x2="270.84" y2="55.30" stroke="#000" stroke-width="1" />
<line x1="283.76" y1="52.50" x2="283.76" y2="55.30" stroke="#000" stroke-width="1" />
<line x1="296.68" y1="52.50" x2="296.68" y2="55.30" stroke="#000" stroke-width="1" />
<line x1="309.60" y1="52.50" x2="309.60" y2="57.90" stroke="#000" stroke-width="1" />
<line x1="51.20" y1="109.91" x2="51.20" y2="115.31" stroke="#000" stroke-width="1" />
<line x1="51.20" y1="62.91" x2="51.20" y2="57.51" stroke="#000" stroke-width="1" />
<line x1="64.12" y1="109.91" x2="64.12" y2="112.71" stroke="#000" stroke-width="1" />
<line x1="64.12" y1="62.91" x2="64.12" y2="60.11" stroke="#000" stroke-width="1" />
<line x1="77.04" y1="109.91" x2="77.04" y2="112.71" stroke="#000" stroke-width="1" />
<line x1="77.04" y1="62.91" x2="77.04" y2="60.11" stroke="#000" stroke-width="1" />
<line x1="89.96" y1="109.91" x2="89.96" y2="112.71" stroke="#000" stroke-width="1" />
<line x1="89.96" y1="62.91" x2="89.96" y2="60.11" stroke="#000" stroke-width="1" />
<line x1="102.88" y1="109.91" x2="102.88" y2="112.71" stroke="#000" stroke-width="1" />
<line x1="102.88" y1="62.91" x2="102.88" y2="60.11" stroke="#000" stroke-width="1" />
<line x1="115.80" y1="109.91" x2="115.80" y2="115.31" stroke="#000" stroke-width="1" />
<line x1="115.80" y1="62.91" x2="115.80" y2="57.51" stroke="#000" stroke-width="1" />
<line x1="128.72" y1="109.91" x2="128.72" y2="112.71" stroke="#000" stroke-width="1" />
<line x1="128.72" y1="62.91" x2="128.72" y2="60.11" stroke="#000" stroke-width="1" />
<line x1="141.64" y1="109.91" x2="141.64" y2="112.71" stroke="#000" stroke-width="1" />
<line x1="141.64" y1="62.91" x2="141.64" y2="60.11" stroke="#000" stroke-width="1" />
<line x1="154.56" y1="109.91" x2="154.56" y2="112.71" stroke="#000" stroke-width="1" />
<line x1="154.56" y1="62.91" x2="154.56" y2="60.11" stroke="#000" stroke-width="1" />
<line x1="167.48" y1="109.91" x2="167.48" y2="112.71" stroke="#000" stroke-width="1" />
<line x1="167.48" y1="62.91" x2="167.48" y2="60.11" stroke="#000" stroke-width="1" />
<line x1="180.40" y1="109.91" x2="180.40" y2="115.31" stroke="#000" stroke-width="1" />
<line x1="180.40" y1="62.91" x2="180.40" y2="57.51" stroke="#000" stroke-width="1" />
<line x1="193.32" y1="109.91" x2="193.32" y2="112.71" stroke="#000" stroke-width="1" />
<line x1="193.32" y1="62.91" x2="193.32" y2="60.11" stroke="#000" stroke-width="1" />
<line x1="206.24" y1="109.91" x2="206.24" y2="112.71" stroke="#000" stroke-width="1" />
<line x1="206.24" y1="62.91" x2="206.24" y2="60.11" stroke="#000" stroke-width="1" />
<line x1="219.16" y1="109.91" x2="219.16" y2="112.71" stroke="#000" stroke-width="1" />
<line x1="219.16" y1="62.91" x2="219.16" y2="60.11" stroke="#000" stroke-width="1" />
<line x1="232.08" y1="109.91" x2="232.08" y2="112.71" stroke="#000" stroke-width="1" />
<line x1="232.08" y1="62.91" x2="232.08" y2="60.11" stroke="#000" stroke-width="1" />
<line x1="245.00" y1="109.91" x2="245.00" y2="115.31" stroke="#000" stroke-width="1" />
<line x1="245.00" y1="62.91" x2="245.00" y2="57.51" stroke="#000" stroke-width="1" />
<line x1="257.92" y1="109.91" x2="257.92" y2="112.71" stroke="#000" stroke-width="1" />
<line x1="257.92" y1="62.91" x2="257.92" y2="60.11" stroke="#000" stroke-width="1" />
<line x1="270.84" y1="109.91" x2="270.84" y2="112.71" stroke="#000" stroke-width="1" />
<line x1="270.84" y1="62.91" x2="270.84" y2="60.11" stroke="#000" stroke-width="1" />
<line x1="283.76" y1="109.91" x2="283.76" y2="112.71" stroke="#000" stroke-width="1" />
<line x1="283.76" y1="62.91" x2="283.76" y2="60.11" stroke="#000" stroke-width="1" />
<line x1="296.68" y1="109.91" x2="296.68" y2="112.71" stroke="#000" stroke-width="1" />
<line x1="296.68" y1="62.91" x2="296.68" y2="60.11" stroke="#000" stroke-width="1" />
<line x1="309.60" y1="109.91" x2="309.60" y2="115.31" stroke="#000" stroke-width="1" />
<line x1="309.60" y1="62.91" x2="309.60" y2="57.51" stroke="#000" stroke-width="1" />
<line x1="51.20" y1="167.32" x2="51.20" y2="172.72" stroke="#000" stroke-width="1" />
<line x1="51.20" y1="120.32" x2="51.20" y2="114.92" stroke="#000" stroke-width="1" />
<line x1="64.12" y1="167.32" x2="64.12" y2="170.12" stroke="#000" stroke-width="1" />
<line x1="64.12" y1="120.32" x2="64.12" y2="117.52" stroke="#000" stroke-width="1" />
<line x1="77.04" y1="167.32" x2="77.04" y2="170.12" stroke="#000" stroke-width="1" />
<line x1="77.04" y1="120.32" x2="77.04" y2="117.52" stroke="#000" stroke-width="1" />
<line x1="89.96" y1="167.32" x2="89.96" y2="170.12" stroke="#000" stroke-width="1" />
<line x1="89.96" y1="120.32" x2="89.96" y2="117.52" stroke="#000" stroke-width="1" />
<line x1="102.88" y1="167.32" x2="102.88" y2="170.12" stroke="#000" stroke-width="1" />
<line x1="102.88" y1="120.32" x2="102.88" y2="117.52" stroke="#000" stroke-width="1" />
<line x1="115.80" y1="167.32" x2="115.80" y2="172.72" stroke="#000" stroke-width="1" />
<line x1="115.80" y1="120.32" x2="115.80" y2="114.92" stroke="#000" stroke-width="1" />
<line x1="128.72" y1="167.32" x2="128.72" y2="170.12" stroke="#000" stroke-width="1" />
<line x1="128.72" y1="120.32" x2="128.72" y2="117.52" stroke="#000" stroke-width="1" />
<line x1="141.64" y1="167.32" x2="141.64" y2="170.12" stroke="#000" stroke-width="1" />
<line x1="141.64" y1="120.32" x2="141.64" y2="117.52" stroke="#000" stroke-width="1" />
<line x1="154.56" y1="167.32" x2="154.56" y2="170.12" stroke="#000" stroke-width="1" />
<line x1="154.56" y1="120.32" x2="154.56" y2="117.52" stroke="#000" stroke-width="1" />
<line x1="167.48" y1="167.32" x2="167.48" y2="170.12" stroke="#000" stroke-width="1" />
<line x1="167.48" y1="120.32" x2="167.48" y2="117.52" stroke="#000" stroke-width="1" />
<line x1="180.40" y1="167.32" x2="180.40" y2="172.72" stroke="#000" stroke-width="1" />
<line x1="180.40" y1="120.32" x2="180.40" y2="114.92" stroke="#000" stroke-width="1" />
<line x1="193.32" y1="167.32" x2="193.32" y2="170.12" stroke="#000" stroke-width="1" />
<line x1="193.32" y1="120.32" x2="193.32" y2="117.52" stroke="#000" stroke-width="1" />
<line x1="206.24" y1="167.32" x2="206.24" y2="170.12" stroke="#000" stroke-width="1" />
<line x1="206.24" y1="120.32" x2="206.24" y2="117.52" stroke="#000" stroke-width="1" />
<line x1="219.16" y1="167.32" x2="219.16" y2="170.12" stroke="#000" stroke-width="1" />
<line x1="219.16" y1="120.32" x2="219.16" y2="117.52" stroke="#000" stroke-width="1" />
<line x1="232.08" y1="167.32" x2="232.08" y2="170.12" stroke="#000" stroke-width="1" />
<line x1="232.08" y1="120.32" x2="232.08" y2="117.52" stroke="#000" stroke-width="1" />
<line x1="245.00" y1="167.32" x2="245.00" y2="172.72" stroke="#000" stroke-width="1" />
<line x1="245.00" y1="120.32" x2="245.00" y2="114.92" stroke="#000" stroke-width="1" />
<line x1="257.92" y1="167.32" x2="257.92" y2="170.12" stroke="#000" stroke-width="1" />
<line x1="257.92" y1="120.32" x2="257.92" y2="117.52" stroke="#000" stroke-width="1" />
<line x1="270.84" y1="167.32" x2="270.84" y2="170.12" stroke="#000" stroke-width="1" />
<line x1="270.84" y1="120.32" x2="270.84" y2="117.52" stroke="#000" stroke-width="1" />
<line x1="283.76" y1="167.32" x2="283.76" y2="170.12" stroke="#000" stroke-width="1" />
<line x1="283.76" y1="120.32" x2="283.76" y2="117.52" stroke="#000" stroke-width="1" />
<line x1="296.68" y1="167.32" x2="296.68" y2="170.12" stroke="#000" stroke-width="1" />
<line x1="296.68" y1="120.32" x2="296.68" y2="117.52" stroke="#000" stroke-width="1" />
<line x1="309.60" y1="167.32" x2="309.60" y2="172.72" stroke="#000" stroke-width="1" />
<line x1="309.60" y1="120.32" x2="309.60" y2="114.92" stroke="#000" stroke-width="1" />
<line x1="51.20" y1="224.73" x2="51.20" y2="230.13" stroke="#000" stroke-width="1" />
<line x1="51.20" y1="177.73" x2="51.20" y2="172.33" stroke="#000" stroke-width="1" />
<line x1="64.12" y1="224.73" x2="64.12" y2="227.53" stroke="#000" stroke-width="1" />
<line x1="64.12" y1="177.73" x2="64.12" y2="174.93" stroke="#000" stroke-width="1" />
<line x1="77.04" y1="224.73" x2="77.04" y2="227.53" stroke="#000" stroke-width="1" />
<line x1="77.04" y1="177.73" x2="77.04" y2="174.93" stroke="#000" stroke-width="1" />
<line x1="89.96" y1="224.73" x2="89.96" y2="227.53" stroke="#000" stroke-width="1" />
<line x1="89.96" y1="177.73" x2="89.96" y2="174.93" stroke="#000" stroke-width="1" />
<line x1="102.88" y1="224.73" x2="102.88" y2="227.53" stroke="#000" stroke-width="1" />
<line x1="102.88" y1="177.73" x2="102.88" y2="174.93" stroke="#000" stroke-width="1" />
<line x1="115.80" y1="224.73" x2="115.80" y2="230.13" stroke="#000" stroke-width="1" />
<line x1="115.80" y1="177.73" x2="115.80" y2="172.33" stroke="#000" stroke-width="1" />
<line x1="128.72" y1="224.73" x2="128.72" y2="227.53" stroke="#000" stroke-width="1" />
<line x1="128.72" y1="177.73" x2="128.72" y2="174.93" stroke="#000" stroke-width="1" />
<line x1="141.64" y1="224.73" x2="141.64" y2="227.53" stroke="#000" stroke-width="1" />
<line x1="141.64" y1="177.73" x2="141.64" y2="174.93" stroke="#000" stroke-width="1" />
<line x1="154.56" y1="224.73" x2="154.56" y2="227.53" stroke="#000" stroke-width="1" />
<line x1="154.56" y1="177.73" x2="154.56" y2="174.93" stroke="#000" stroke-width="1" />
<line x1="167.48" y1="224.73" x2="167.48" y2="227.53" stroke="#000" stroke-width="1" />
<line x1="167.48" y1="177.73" x2="167.48" y2="174.93" stroke="#000" stroke-width="1" />
<line x1="180.40" y1="224.73" x2="180.40" y2="230.13" stroke="#000" stroke-width="1" />
<line x1="180.40" y1="177.73" x2="180.40" y2="172.33" stroke="#000" stroke-width="1" />
<line x1="193.32" y1="224.73" x2="193.32" y2="227.53" stroke="#000" stroke-width="1" />
<line x1="193.32" y1="177.73" x2="193.32" y2="174.93" stroke="#000" stroke-width="1" />
<line x1="206.24" y1="224.73" x2="206.24" y2="227.53" stroke="#000" stroke-width="1" />
<line x1="206.24" y1="177.73" x2="206.24" y2="174.93" stroke="#000" stroke-width="1" />
<line x1="219.16" y1="224.73" x2="219.16" y2="227.53" stroke="#000" stroke-width="1" />
<line x1="219.16" y1="177.73" x2="219.16" y2="174.93" stroke="#000" stroke-width="1" />
<line x1="232.08" y1="224.73" x2="232.08" y2="227.53" stroke="#000" stroke-width="1" />
<line x1="232.08" y1="177.73" x2="232.08" y2="174.93" stroke="#000" stroke-width="1" />
<line x1="245.00" y1="224.73" x2="245.00" y2="230.13" stroke="#000" stroke-width="1" />
<line x1="245.00" y1="177.73" x2="245.00" y2="172.33" stroke="#000" stroke-width="1" />
<line x1="257.92" y1="224.73" x2="257.92" y2="227.53" stroke="#000" stroke-width="1" />
<line x1="257.92" y1="177.73" x2="257.92" y2="174.93" stroke="#000" stroke-width="1" />
<line x1="270.84" y1="224.73" x2="270.84" y2="227.53" stroke="#000" stroke-width="1" />
<line x1="270.84" y1="177.73" x2="270.84" y2="174.93" stroke="#000" stroke-width="1" />
<line x1="283.76" y1="224.73" x2="283.76" y2="227.53" stroke="#000" stroke-width="1" />
<line x1="283.76" y1="177.73" x2="283.76" y2="174.93" stroke="#000" stroke-width="1" />
<line x1="296.68" y1="224.73" x2="296.68" y2="227.53" stroke="#000" stroke-width="1" />
<line x1="296.68" y1="177.73" x2="296.68" y2="174.93" stroke="#000" stroke-width="1" />
<line x1="309.60" y1="224.73" x2="309.60" y2="230.13" stroke="#000" stroke-width="1" />
<line x1="309.60" y1="177.73" x2="309.60" y2="172.33" stroke="#000" stroke-width="1" />
<line x1="51.20" y1="282.14" x2="51.20" y2="287.54" stroke="#000" stroke-width="1" />
<line x1="51.20" y1="235.14" x2="51.20" y2="229.74" stroke="#000" stroke-width="1" />
<line x1="64.12" y1="282.14" x2="64.12" y2="284.94" stroke="#000" stroke-width="1" />
<line x1="64.12" y1="235.14" x2="64.12" y2="232.34" stroke="#000" stroke-width="1" />
<line x1="77.04" y1="282.14" x2="77.04" y2="284.94" stroke="#000" stroke-width="1" />
<line x1="77.04" y1="235.14" x2="77.04" y2="232.34" stroke="#000" stroke-width="1" />
<line x1="89.96" y1="282.14" x2="89.96" y2="284.94" stroke="#000" stroke-width="1" />
<line x1="89.96" y1="235.14" x2="89.96" y2="232.34" stroke="#000" stroke-width="1" />
<line x1="102.88" y1="282.14" x2="102.88" y2="284.94" stroke="#000" stroke-width="1" />
<line x1="102.88" y1="235.14" x2="102.88" y2="232.34" stroke="#000" stroke-width="1" />
<line x1="115.80" y1="282.14" x2="115.80" y2="287.54" stroke="#000" stroke-width="1" />
<line x1="115.80" y1="235.14" x2="115.80" y2="229.74" stroke="#000" stroke-width="1" />
<line x1="128.72" y1="282.14" x2="128.72" y2="284.94" stroke="#000" stroke-width="1" />
<line x1="128.72" y1="235.14" x2="128.72" y2="232.34" stroke="#000" stroke-width="1" />
<line x1="141.64" y1="282.14" x2="141.64" y2="284.94" stroke="#000" stroke-width="1" />
<line x1="141.64" y1="235.14" x2="141.64" y2="232.34" stroke="#000" stroke-width="1" />
<line x1="154.56" y1="282.14" x2="154.56" y2="284.94" stroke="#000" stroke-width="1" />
<line x1="154.56" y1="235.14" x2="154.56" y2="232.34" stroke="#000" stroke-width="1" />
<line x1="167.48" y1="282.14" x2="167.48" y2="284.94" stroke="#000" stroke-width="1" />
<line x1="167.48" y1="235.14" x2="167.48" y2="232.34" stroke="#000" stroke-width="1" />
<line x1="180.40" y1="282.14" x2="180.40" y2="287.54" stroke="#000" stroke-width="1" />
<line x1="180.40" y1="235.14" x2="180.40" y2="229.74" stroke="#000" stroke-width="1" />
<line x1="193.32" y1="282.14" x2="193.32" y2="284.94" stroke="#000" stroke-width="1" />
<line x1="193.32" y1="235.14" x2="193.32" y2="232.34" stroke="#000" stroke-width="1" />
<line x1="206.24" y1="282.14" x2="206.24" y2="284.94" stroke="#000" stroke-width="1" />
<line x1="206.24" y1="235.14" x2="206.24" y2="232.34" stroke="#000" stroke-width="1" />
<line x1="219.16" y1="282.14" x2="219.16" y2="284.94" stroke="#000" stroke-width="1" />
<line x1="219.16" y1="235.14" x2="219.16" y2="232.34" stroke="#000" stroke-width="1" />
<line x1="232.08" y1="282.14" x2="232.08" y2="284.94" stroke="#000" stroke-width="1" />
<line x1="232.08" y1="235.14" x2="232.08" y2="232.34" stroke="#000" stroke-width="1" />
<line x1="245.00" y1="282.14" x2="245.00" y2="287.54" stroke="#000" stroke-width="1" />
<line x1="245.00" y1="235.14" x2="245.00" y2="229.74" stroke="#000" stroke-width="1" />
<line x1="257.92" y1="282.14" x2="257.92" y2="284.94" stroke="#000" stroke-width="1" />
<line x1="257.92" y1="235.14" x2="257.92" y2="232.34" stroke="#000" stroke-width="1" />
<line x1="270.84" y1="282.14" x2="270.84" y2="284.94" stroke="#000" stroke-width="1" />
<line x1="270.84" y1="235.14" x2="270.84" y2="232.34" stroke="#000" stroke-width="1" />
<line x1="283.76" y1="282.14" x2="283.76" y2="284.94" stroke="#000" stroke-width="1" />
<line x1="283.76" y1="235.14" x2="283.76" y2="232.34" stroke="#000" stroke-width="1" />
<line x1="296.68" y1="282.14" x2="296.68" y2="284.94" stroke="#000" stroke-width="1" />
<line x1="296.68" y1="235.14" x2="296.68" y2="232.34" stroke="#000" stroke-width="1" />
<line x1="309.60" y1="282.14" x2="309.60" y2="287.54" stroke="#000" stroke-width="1" />
<line x1="309.60" y1="235.14" x2="309.60" y2="229.74" stroke="#000" stroke-width="1" />
<line x1="51.20" y1="339.55" x2="51.20" y2="344.95" stroke="#000" stroke-width="1" />
<line x1="51.20" y1="292.55" x2="51.20" y2="287.15" stroke="#000" stroke-width="1" />
<line x1="64.12" y1="339.55" x2="64.12" y2="342.35" stroke="#000" stroke-width="1" />
<line x1="64.12" y1="292.55" x2="64.12" y2="289.75" stroke="#000" stroke-width="1" />
<line x1="77.04" y1="339.55" x2="77.04" y2="342.35" stroke="#000" stroke-width="1" />
<line x1="77.04" y1="292.55" x2="77.04" y2="289.75" stroke="#000" stroke-width="1" />
<line x1="89.96" y1="339.55" x2="89.96" y2="342.35" stroke="#000" stroke-width="1" />
<line x1="89.96" y1="292.55" x2="89.96" y2="289.75" stroke="#000" stroke-width="1" />
<line x1="102.88" y1="339.55" x2="102.88" y2="342.35" stroke="#000" stroke-width="1" />
<line x1="102.88" y1="292.55" x2="102.88" y2="289.75" stroke="#000" stroke-width="1" />
<line x1="115.80" y1="339.55" x2="115.80" y2="344.95" stroke="#000" stroke-width="1" />
<line x1="115.80" y1="292.55" x2="115.80" y2="287.15" stroke="#000" stroke-width="1" />
<line x1="128.72" y1="339.55" x2="128.72" y2="342.35" stroke="#000" stroke-width="1" />
<line x1="128.72" y1="292.55" x2="128.72" y2="289.75" stroke="#000" stroke-width="1" />
<line x1="141.64" y1="339.55" x2="141.64" y2="342.35" stroke="#000" stroke-width="1" />
<line x1="141.64" y1="292.55" x2="141.64" y2="289.75" stroke="#000" stroke-width="1" />
<line x1="154.56" y1="339.55" x2="154.56" y2="342.35" stroke="#000" stroke-width="1" />
<line x1="154.56" y1="292.55" x2="154.56" y2="289.75" stroke="#000" stroke-width="1" />
<line x1="167.48" y1="339.55" x2="167.48" y2="342.35" stroke="#000" stroke-width="1" />
<line x1="167.48" y1="292.55" x2="167.48" y2="289.75" stroke="#000" stroke-width="1" />
<line x1="180.40" y1="339.55" x2="180.40" y2="344.95" stroke="#000" stroke-width="1" />
<line x1="180.40" y1="292.55" x2="180.40" y2="287.15" stroke="#000" stroke-width="1" />
<line x1="193.32" y1="339.55" x2="193.32" y2="342.35" stroke="#000" stroke-width="1" />
<line x1="193.32" y1="292.55" x2="193.32" y2="289.75" stroke="#000" stroke-width="1" />
<line x1="206.24" y1="339.55" x2="206.24" y2="342.35" stroke="#000" stroke-width="1" />
<line x1="206.24" y1="292.55" x2="206.24" y2="289.75" stroke="#000" stroke-width="1" />
<line x1="219.16" y1="339.55" x2="219.16" y2="342.35" stroke="#000" stroke-width="1" />
<line x1="219.16" y1="292.55" x2="219.16" y2="289.75" stroke="#000" stroke-width="1" />
<line x1="232.08" y1="339.55" x2="232.08" y2="342.35" stroke="#000" stroke-width="1" />
<line x1="232.08" y1="292.55" x2="232.08" y2="289.75" stroke="#000" stroke-width="1" />
<line x1="245.00" y1="339.55" x2="245.00" y2="344.95" stroke="#000" stroke-width="1" />
<line x1="245.00" y1="292.55" x2="245.00" y2="287.15" stroke="#000" stroke-width="1" />
<line x1="257.92" y1="339.55" x2="257.92" y2="342.35" stroke="#000" stroke-width="1" />
<line x1="257.92" y1="292.55" x2="257.92" y2="289.75" stroke="#000" stroke-width="1" />
<line x1="270.84" y1="339.55" x2="270.84" y2="342.35" stroke="#000" stroke-width="1" />
<line x1="270.84" y1="292.55" x2="270.84" y2="289.75" stroke="#000" stroke-width="1" />
<line x1="283.76" y1="339.55" x2="283.76" y2="342.35" stroke="#000" stroke-width="1" />
<line x1="283.76" y1="292.55" x2="283.76" y2="289.75" stroke="#000" stroke-width="1" />
<line x1="296.68" y1="339.55" x2="296.68" y2="342.35" stroke="#000" stroke-width="1" />
<line x1="296.68" y1="292.55" x2="296.68" y2="289.75" stroke="#000" stroke-width="1" />
<line x1="309.60" y1="339.55" x2="309.60" y2="344.95" stroke="#000" stroke-width="1" />
<line x1="309.60" y1="292.55" x2="309.60" y2="287.15" stroke="#000" stroke-width="1" />
<line x1="51.20" y1="396.96" x2="51.20" y2="402.36" stroke="#000" stroke-width="1" />
<line x1="51.20" y1="349.96" x2="51.20" y2="344.56" stroke="#000" stroke-width="1" />
<line x1="64.12" y1="396.96" x2="64.12" y2="399.76" stroke="#000" stroke-width="1" />
<line x1="64.12" y1="349.96" x2="64.12" y2="347.16" stroke="#000" stroke-width="1" />
<line x1="77.04" y1="396.96" x2="77.04" y2="399.76" stroke="#000" stroke-width="1" />
<line x1="77.04" y1="349.96" x2="77.04" y2="347.16" stroke="#000" stroke-width="1" />
<line x1="89.96" y1="396.96" x2="89.96" y2="399.76" stroke="#000" stroke-width="1" />
<line x1="89.96" y1="349.96" x2="89.96" y2="347.16" stroke="#000" stroke-width="1" />
<line x1="102.88" y1="396.96" x2="102.88" y2="399.76" stroke="#000" stroke-width="1" />
<line x1="102.88" y1="349.96" x2="102.88" y2="347.16" stroke="#000" stroke-width="1" />
<line x1="115.80" y1="396.96" x2="115.80" y2="402.36" stroke="#000" stroke-width="1" />
<line x1="115.80" y1="349.96" x2="115.80" y2="344.56" stroke="#000" stroke-width="1" />
<line x1="128.72" y1="396.96" x2="128.72" y2="399.76" stroke="#000" stroke-width="1" />
<line x1="128.72" y1="349.96" x2="128.72" y2="347.16" stroke="#000" stroke-width="1" />
<line x1="141.64" y1="396.96" x2="141.64" y2="399.76" stroke="#000" stroke-width="1" />
<line x1="141.64" y1="349.96" x2="141.64" y2="347.16" stroke="#000" stroke-width="1" />
<line x1="154.56" y1="396.96" x2="154.56" y2="399.76" stroke="#000" stroke-width="1" />
<line x1="154.56" y1="349.96" x2="154.56" y2="347.16" stroke="#000" stroke-width="1" />
<line x1="167.48" y1="396.96" x2="167.48" y2="399.76" stroke="#000" stroke-width="1" />
<line x1="167.48" y1="349.96" x2="167.48" y2="347.16" stroke="#000" stroke-width="1" />
<line x1="180.40" y1="396.96" x2="180.40" y2="402.36" stroke="#000" stroke-width="1" />
<line x1="180.40" y1="349.96" x2="180.40" y2="344.56" stroke="#000" stroke-width="1" />
<line x1="193.32" y1="396.96" x2="193.32" y2="399.76" stroke="#000" stroke-width="1" />
<line x1="193.32" y1="349.96" x2="193.32" y2="347.16" stroke="#000" stroke-width="1" />
<line x1="206.24" y1="396.96" x2="206.24" y2="399.76" stroke="#000" stroke-width="1" />
<line x1="206.24" y1="349.96" x2="206.24" y2="347.16" stroke="#000" stroke-width="1" />
<line x1="219.16" y1="396.96" x2="219.16" y2="399.76" stroke="#000" stroke-width="1" />
<line x1="219.16" y1="349.96" x2="219.16" y2="347.16" stroke="#000" stroke-width="1" />
<line x1="232.08" y1="396.96" x2="232.08" y2="399.76" stroke="#000" stroke-width="1" />
<line x1="232.08" y1="349.96" x2="232.08" y2="347.16" stroke="#000" stroke-width="1" />
<line x1="245.00" y1="396.96" x2="245.00" y2="402.36" stroke="#000" stroke-width="1" />
<line x1="245.00" y1="349.96" x2="245.00" y2="344.56" stroke="#000" stroke-width="1" />
<line x1="257.92" y1="396.96" x2="257.92" y2="399.76" stroke="#000" stroke-width="1" />
<line x1="257.92" y1="349.96" x2="257.92" y2="347.16" stroke="#000" stroke-width="1" />
<line x1="270.84" y1="396.96" x2="270.84" y2="399.76" stroke="#000" stroke-width="1" />
<line x1="270.84" y1="349.96" x2="270.84" y2="347.16" stroke="#000" stroke-width="1" />
<line x1="283.76" y1="396.96" x2="283.76" y2="399.76" stroke="#000" stroke-width="1" />
<line x1="283.76" y1="349.96" x2="283.76" y2="347.16" stroke="#000" stroke-width="1" />
<line x1="296.68" y1="396.96" x2="296.68" y2="399.76" stroke="#000" stroke-width="1" />
<line x1="296.68" y1="349.96" x2="296.68" y2="347.16" stroke="#000" stroke-width="1" />
<line x1="309.60" y1="396.96" x2="309.60" y2="402.36" stroke="#000" stroke-width="1" />
<line x1="309.60" y1="349.96" x2="309.60" y2="344.56" stroke="#000" stroke-width="1" />
<line x1="51.20" y1="454.37" x2="51.20" y2="459.77" stroke="#000" stroke-width="1" />
<line x1="51.20" y1="407.37" x2="51.20" y2="401.97" stroke="#000" stroke-width="1" />
<line x1="64.12" y1="454.37" x2="64.12" y2="457.17" stroke="#000" stroke-width="1" />
<line x1="64.12" y1="407.37" x2="64.12" y2="404.57" stroke="#000" stroke-width="1" />
<line x1="77.04" y1="454.37" x2="77.04" y2="457.17" stroke="#000" stroke-width="1" />
<line x1="77.04" y1="407.37" x2="77.04" y2="404.57" stroke="#000" stroke-width="1" />
<line x1="89.96" y1="454.37" x2="89.96" y2="457.17" stroke="#000" stroke-width="1" />
<line x1="89.96" y1="407.37" x2="89.96" y2="404.57" stroke="#000" stroke-width="1" />
<line x1="102.88" y1="454.37" x2="102.88" y2="457.17" stroke="#000" stroke-width="1" />
<line x1="102.88" y1="407.37" x2="102.88" y2="404.57" stroke="#000" stroke-width="1" />
<line x1="115.80" y1="454.37" x2="115.80" y2="459.77" stroke="#000" stroke-width="1" />
<line x1="115.80" y1="407.37" x2="115.80" y2="401.97" stroke="#000" stroke-width="1" />
<line x1="128.72" y1="454.37" x2="128.72" y2="457.17" stroke="#000" stroke-width="1" />
<line x1="128.72" y1="407.37" x2="128.72" y2="404.57" stroke="#000" stroke-width="1" />
<line x1="141.64" y1="454.37" x2="141.64" y2="457.17" stroke="#000" stroke-width="1" />
<line x1="141.64" y1="407.37" x2="141.64" y2="404.57" stroke="#000" stroke-width="1" />
<line x1="154.56" y1="454.37" x2="154.56" y2="457.17" stroke="#000" stroke-width="1" />
<line x1="154.56" y1="407.37" x2="154.56" y2="404.57" stroke="#000" stroke-width="1" />
<line x1="167.48" y1="454.37" x2="167.48" y2="457.17" stroke="#000" stroke-width="1" />
<line x1="167.48" y1="407.37" x2="167.48" y2="404.57" stroke="#000" stroke-width="1" />
<line x1="180.40" y1="454.37" x2="180.40" y2="459.77" stroke="#000" stroke-width="1" />
<line x1="180.40" y1="407.37" x2="180.40" y2="401.97" stroke="#000" stroke-width="1" />
<line x1="193.32" y1="454.37" x2="193.32" y2="457.17" stroke="#000" stroke-width="1" />
<line x1="193.32" y1="407.37" x2="193.32" y2="404.57" stroke="#000" stroke-width="1" />
<line x1="206.24" y1="454.37" x2="206.24" y2="457.17" stroke="#000" stroke-width="1" />
<line x1="206.24" y1="407.37" x2="206.24" y2="404.57" stroke="#000" stroke-width="1" />
<line x1="219.16" y1="454.37" x2="219.16" y2="457.17" stroke="#000" stroke-width="1" />
<line x1="219.16" y1="407.37" x2="219.16" y2="404.57" stroke="#000" stroke-width="1" />
<line x1="232.08" y1="454.37" x2="232.08" y2="457.17" stroke="#000" stroke-width="1" />
<line x1="232.08" y1="407.37" x2="232.08" y2="404.57" stroke="#000" stroke-width="1" />
<line x1="245.00" y1="454.37" x2="245.00" y2="459.77" stroke="#000" stroke-width="1" />
<line x1="245.00" y1="407.37" x2="245.00" y2="401.97" stroke="#000" stroke-width="1" />
<line x1="257.92" y1="454.37" x2="257.92" y2="457.17" stroke="#000" stroke-width="1" />
<line x1="257.92" y1="407.37" x2="257.92" y2="404.57" stroke="#000" stroke-width="1" />
<line x1="270.84" y1="454.37" x2="270.84" y2="457.17" stroke="#000" stroke-width="1" />
<line x1="270.84" y1="407.37" x2="270.84" y2="404.57" stroke="#000" stroke-width="1" />
<line x1="283.76" y1="454.37" x2="283.76" y2="457.17" stroke="#000" stroke-width="1" />
<line x1="283.76" y1="407.37" x2="283.76" y2="404.57" stroke="#000" stroke-width="1" />
<line x1="296.68" y1="454.37" x2="296.68" y2="457.17" stroke="#000" stroke-width="1" />
<line x1="296.68" y1="407.37" x2="296.68" y2="404.57" stroke="#000" stroke-width="1" />
<line x1="309.60" y1="454.37" x2="309.60" y2="459.77" stroke="#000" stroke-width="1" />
<line x1="309.60" y1="407.37" x2="309.60" y2="401.97" stroke="#000" stroke-width="1" />
<text x="50.90" y="470.60" font-size="10" fill="#000" text-anchor="middle" font-family='"Liberation Sans", Arial, sans-serif' >150</text>
<text x="115.50" y="470.60" font-size="10" fill="#000" text-anchor="middle" font-family='"Liberation Sans", Arial, sans-serif' >155</text>
<text x="180.10" y="470.60" font-size="10" fill="#000" text-anchor="middle" font-family='"Liberation Sans", Arial, sans-serif' >160</text>
<text x="244.70" y="470.60" font-size="10" fill="#000" text-anchor="middle" font-family='"Liberation Sans", Arial, sans-serif' >165</text>
<text x="309.30" y="470.60" font-size="10" fill="#000" text-anchor="middle" font-family='"Liberation Sans", Arial, sans-serif' >170</text>
<text x="180.00" y="492.00" font-size="12.5" fill="#000" text-anchor="middle" font-family='"Liberation Sans", Arial, sans-serif' >Day of year 1993</text>
<line x1="48.40" y1="52.16" x2="51.20" y2="52.16" stroke="#000" stroke-width="1" />
<line x1="45.70" y1="45.49" x2="51.20" y2="45.49" stroke="#000" stroke-width="1" />
<text x="42.20" y="48.24" font-size="10" fill="#000" text-anchor="end" font-family='"Liberation Sans", Arial, sans-serif' >600</text>
<line x1="48.40" y1="38.83" x2="51.20" y2="38.83" stroke="#000" stroke-width="1" />
<line x1="45.70" y1="32.16" x2="51.20" y2="32.16" stroke="#000" stroke-width="1" />
<text x="42.20" y="34.91" font-size="10" fill="#000" text-anchor="end" font-family='"Liberation Sans", Arial, sans-serif' >700</text>
<line x1="48.40" y1="25.50" x2="51.20" y2="25.50" stroke="#000" stroke-width="1" />
<line x1="45.70" y1="18.83" x2="51.20" y2="18.83" stroke="#000" stroke-width="1" />
<text x="42.20" y="21.58" font-size="10" fill="#000" text-anchor="end" font-family='"Liberation Sans", Arial, sans-serif' >800</text>
<line x1="48.40" y1="12.16" x2="51.20" y2="12.16" stroke="#000" stroke-width="1" />
<line x1="45.70" y1="5.50" x2="51.20" y2="5.50" stroke="#000" stroke-width="1" />
<text x="42.20" y="8.25" font-size="10" fill="#000" text-anchor="end" font-family='"Liberation Sans", Arial, sans-serif' >900</text>
<line x1="309.60" y1="51.60" x2="315.10" y2="51.60" stroke="#000" stroke-width="1" />
<text x="318.30" y="54.35" font-size="10" fill="#000" text-anchor="start" font-family='"Liberation Sans", Arial, sans-serif' >0</text>
<line x1="309.60" y1="45.81" x2="312.40" y2="45.81" stroke="#000" stroke-width="1" />
<line x1="309.60" y1="40.02" x2="315.10" y2="40.02" stroke="#000" stroke-width="1" />
<text x="318.30" y="42.77" font-size="10" fill="#000" text-anchor="start" font-family='"Liberation Sans", Arial, sans-serif' >100</text>
<line x1="309.60" y1="34.23" x2="312.40" y2="34.23" stroke="#000" stroke-width="1" />
<line x1="309.60" y1="28.44" x2="315.10" y2="28.44" stroke="#000" stroke-width="1" />
<text x="318.30" y="31.19" font-size="10" fill="#000" text-anchor="start" font-family='"Liberation Sans", Arial, sans-serif' >200</text>
<line x1="309.60" y1="22.65" x2="312.40" y2="22.65" stroke="#000" stroke-width="1" />
<line x1="309.60" y1="16.86" x2="315.10" y2="16.86" stroke="#000" stroke-width="1" />
<text x="318.30" y="19.61" font-size="10" fill="#000" text-anchor="start" font-family='"Liberation Sans", Arial, sans-serif' >300</text>
<line x1="309.60" y1="11.07" x2="312.40" y2="11.07" stroke="#000" stroke-width="1" />
<line x1="309.60" y1="5.28" x2="315.10" y2="5.28" stroke="#000" stroke-width="1" />
<text x="318.30" y="8.03" font-size="10" fill="#000" text-anchor="start" font-family='"Liberation Sans", Arial, sans-serif' >400</text>
<line x1="48.40" y1="110.04" x2="51.20" y2="110.04" stroke="#000" stroke-width="1" />
<line x1="48.40" y1="107.75" x2="51.20" y2="107.75" stroke="#000" stroke-width="1" />
<line x1="48.40" y1="106.12" x2="51.20" y2="106.12" stroke="#000" stroke-width="1" />
<line x1="48.40" y1="104.86" x2="51.20" y2="104.86" stroke="#000" stroke-width="1" />
<line x1="48.40" y1="103.83" x2="51.20" y2="103.83" stroke="#000" stroke-width="1" />
<line x1="48.40" y1="102.96" x2="51.20" y2="102.96" stroke="#000" stroke-width="1" />
<line x1="48.40" y1="102.21" x2="51.20" y2="102.21" stroke="#000" stroke-width="1" />
<line x1="48.40" y1="101.54" x2="51.20" y2="101.54" stroke="#000" stroke-width="1" />
<line x1="45.70" y1="100.95" x2="51.20" y2="100.95" stroke="#000" stroke-width="1" />
<line x1="48.40" y1="97.04" x2="51.20" y2="97.04" stroke="#000" stroke-width="1" />
<line x1="48.40" y1="94.75" x2="51.20" y2="94.75" stroke="#000" stroke-width="1" />
<line x1="48.40" y1="93.12" x2="51.20" y2="93.12" stroke="#000" stroke-width="1" />
<line x1="48.40" y1="91.86" x2="51.20" y2="91.86" stroke="#000" stroke-width="1" />
<line x1="48.40" y1="90.83" x2="51.20" y2="90.83" stroke="#000" stroke-width="1" />
<line x1="48.40" y1="89.96" x2="51.20" y2="89.96" stroke="#000" stroke-width="1" />
<line x1="48.40" y1="89.21" x2="51.20" y2="89.21" stroke="#000" stroke-width="1" />
<line x1="48.40" y1="88.54" x2="51.20" y2="88.54" stroke="#000" stroke-width="1" />
<line x1="45.70" y1="87.95" x2="51.20" y2="87.95" stroke="#000" stroke-width="1" />
<line x1="48.40" y1="84.04" x2="51.20" y2="84.04" stroke="#000" stroke-width="1" />
<line x1="48.40" y1="81.75" x2="51.20" y2="81.75" stroke="#000" stroke-width="1" />
<line x1="48.40" y1="80.12" x2="51.20" y2="80.12" stroke="#000" stroke-width="1" />
<line x1="48.40" y1="78.86" x2="51.20" y2="78.86" stroke="#000" stroke-width="1" />
<line x1="48.40" y1="77.83" x2="51.20" y2="77.83" stroke="#000" stroke-width="1" />
<line x1="48.40" y1="76.96" x2="51.20" y2="76.96" stroke="#000" stroke-width="1" />
<line x1="48.40" y1="76.21" x2="51.20" y2="76.21" stroke="#000" stroke-width="1" />
<line x1="48.40" y1="75.54" x2="51.20" y2="75.54" stroke="#000" stroke-width="1" />
<line x1="45.70" y1="74.95" x2="51.20" y2="74.95" stroke="#000" stroke-width="1" />
<line x1="48.40" y1="71.04" x2="51.20" y2="71.04" stroke="#000" stroke-width="1" />
<line x1="48.40" y1="68.75" x2="51.20" y2="68.75" stroke="#000" stroke-width="1" />
<line x1="48.40" y1="67.12" x2="51.20" y2="67.12" stroke="#000" stroke-width="1" />
<line x1="48.40" y1="65.86" x2="51.20" y2="65.86" stroke="#000" stroke-width="1" />
<line x1="48.40" y1="64.83" x2="51.20" y2="64.83" stroke="#000" stroke-width="1" />
<line x1="48.40" y1="63.96" x2="51.20" y2="63.96" stroke="#000" stroke-width="1" />
<line x1="48.40" y1="63.21" x2="51.20" y2="63.21" stroke="#000" stroke-width="1" />
<line x1="309.60" y1="110.04" x2="312.40" y2="110.04" stroke="#000" stroke-width="1" />
<line x1="309.60" y1="107.75" x2="312.40" y2="107.75" stroke="#000" stroke-width="1" />
<line x1="309.60" y1="106.12" x2="312.40" y2="106.12" stroke="#000" stroke-width="1" />
<line x1="309.60" y1="104.86" x2="312.40" y2="104.86" stroke="#000" stroke-width="1" />
<line x1="309.60" y1="103.83" x2="312.40" y2="103.83" stroke="#000" stroke-width="1" />
<line x1="309.60" y1="102.96" x2="312.40" y2="102.96" stroke="#000" stroke-width="1" />
<line x1="309.60" y1="102.21" x2="312.40" y2="102.21" stroke="#000" stroke-width="1" />
<line x1="309.60" y1="101.54" x2="312.40" y2="101.54" stroke="#000" stroke-width="1" />
<line x1="309.60" y1="100.95" x2="315.10" y2="100.95" stroke="#000" stroke-width="1" />
<line x1="309.60" y1="97.04" x2="312.40" y2="97.04" stroke="#000" stroke-width="1" />
<line x1="309.60" y1="94.75" x2="312.40" y2="94.75" stroke="#000" stroke-width="1" />
<line x1="309.60" y1="93.12" x2="312.40" y2="93.12" stroke="#000" stroke-width="1" />
<line x1="309.60" y1="91.86" x2="312.40" y2="91.86" stroke="#000" stroke-width="1" />
<line x1="309.60" y1="90.83" x2="312.40" y2="90.83" stroke="#000" stroke-width="1" />
<line x1="309.60" y1="89.96" x2="312.40" y2="89.96" stroke="#000" stroke-width="1" />
<line x1="309.60" y1="89.21" x2="312.40" y2="89.21" stroke="#000" stroke-width="1" />
<line x1="309.60" y1="88.54" x2="312.40" y2="88.54" stroke="#000" stroke-width="1" />
<line x1="309.60" y1="87.95" x2="315.10" y2="87.95" stroke="#000" stroke-width="1" />
<line x1="309.60" y1="84.04" x2="312.40" y2="84.04" stroke="#000" stroke-width="1" />
<line x1="309.60" y1="81.75" x2="312.40" y2="81.75" stroke="#000" stroke-width="1" />
<line x1="309.60" y1="80.12" x2="312.40" y2="80.12" stroke="#000" stroke-width="1" />
<line x1="309.60" y1="78.86" x2="312.40" y2="78.86" stroke="#000" stroke-width="1" />
<line x1="309.60" y1="77.83" x2="312.40" y2="77.83" stroke="#000" stroke-width="1" />
<line x1="309.60" y1="76.96" x2="312.40" y2="76.96" stroke="#000" stroke-width="1" />
<line x1="309.60" y1="76.21" x2="312.40" y2="76.21" stroke="#000" stroke-width="1" />
<line x1="309.60" y1="75.54" x2="312.40" y2="75.54" stroke="#000" stroke-width="1" />
<line x1="309.60" y1="74.95" x2="315.10" y2="74.95" stroke="#000" stroke-width="1" />
<line x1="309.60" y1="71.04" x2="312.40" y2="71.04" stroke="#000" stroke-width="1" />
<line x1="309.60" y1="68.75" x2="312.40" y2="68.75" stroke="#000" stroke-width="1" />
<line x1="309.60" y1="67.12" x2="312.40" y2="67.12" stroke="#000" stroke-width="1" />
<line x1="309.60" y1="65.86" x2="312.40" y2="65.86" stroke="#000" stroke-width="1" />
<line x1="309.60" y1="64.83" x2="312.40" y2="64.83" stroke="#000" stroke-width="1" />
<line x1="309.60" y1="63.96" x2="312.40" y2="63.96" stroke="#000" stroke-width="1" />
<line x1="309.60" y1="63.21" x2="312.40" y2="63.21" stroke="#000" stroke-width="1" />
<text x="43.00" y="79.25" font-size="10" fill="#000" text-anchor="end" font-family='"Liberation Sans", Arial, sans-serif' >10<tspan font-size="6.7" dy="-5.6">0</tspan></text>
<text x="43.00" y="92.25" font-size="10" fill="#000" text-anchor="end" font-family='"Liberation Sans", Arial, sans-serif' >10<tspan font-size="6.7" dy="-5.6">-1</tspan></text>
<text x="43.00" y="105.25" font-size="10" fill="#000" text-anchor="end" font-family='"Liberation Sans", Arial, sans-serif' >10<tspan font-size="6.7" dy="-5.6">-2</tspan></text>
<line x1="48.40" y1="166.37" x2="51.20" y2="166.37" stroke="#000" stroke-width="1" />
<line x1="48.40" y1="164.63" x2="51.20" y2="164.63" stroke="#000" stroke-width="1" />
<line x1="48.40" y1="163.28" x2="51.20" y2="163.28" stroke="#000" stroke-width="1" />
<line x1="48.40" y1="162.18" x2="51.20" y2="162.18" stroke="#000" stroke-width="1" />
<line x1="48.40" y1="161.25" x2="51.20" y2="161.25" stroke="#000" stroke-width="1" />
<line x1="48.40" y1="160.45" x2="51.20" y2="160.45" stroke="#000" stroke-width="1" />
<line x1="48.40" y1="159.74" x2="51.20" y2="159.74" stroke="#000" stroke-width="1" />
<line x1="45.70" y1="159.10" x2="51.20" y2="159.10" stroke="#000" stroke-width="1" />
<line x1="48.40" y1="154.92" x2="51.20" y2="154.92" stroke="#000" stroke-width="1" />
<line x1="48.40" y1="152.47" x2="51.20" y2="152.47" stroke="#000" stroke-width="1" />
<line x1="48.40" y1="150.73" x2="51.20" y2="150.73" stroke="#000" stroke-width="1" />
<line x1="48.40" y1="149.38" x2="51.20" y2="149.38" stroke="#000" stroke-width="1" />
<line x1="48.40" y1="148.28" x2="51.20" y2="148.28" stroke="#000" stroke-width="1" />
<line x1="48.40" y1="147.35" x2="51.20" y2="147.35" stroke="#000" stroke-width="1" />
<line x1="48.40" y1="146.55" x2="51.20" y2="146.55" stroke="#000" stroke-width="1" />
<line x1="48.40" y1="145.84" x2="51.20" y2="145.84" stroke="#000" stroke-width="1" />
<line x1="45.70" y1="145.20" x2="51.20" y2="145.20" stroke="#000" stroke-width="1" />
<line x1="48.40" y1="141.02" x2="51.20" y2="141.02" stroke="#000" stroke-width="1" />
<line x1="48.40" y1="138.57" x2="51.20" y2="138.57" stroke="#000" stroke-width="1" />
<line x1="48.40" y1="136.83" x2="51.20" y2="136.83" stroke="#000" stroke-width="1" />
<line x1="48.40" y1="135.48" x2="51.20" y2="135.48" stroke="#000" stroke-width="1" />
<line x1="48.40" y1="134.38" x2="51.20" y2="134.38" stroke="#000" stroke-width="1" />
<line x1="48.40" y1="133.45" x2="51.20" y2="133.45" stroke="#000" stroke-width="1" />
<line x1="48.40" y1="132.65" x2="51.20" y2="132.65" stroke="#000" stroke-width="1" />
<line x1="48.40" y1="131.94" x2="51.20" y2="131.94" stroke="#000" stroke-width="1" />
<line x1="45.70" y1="131.30" x2="51.20" y2="131.30" stroke="#000" stroke-width="1" />
<line x1="48.40" y1="127.12" x2="51.20" y2="127.12" stroke="#000" stroke-width="1" />
<line x1="48.40" y1="124.67" x2="51.20" y2="124.67" stroke="#000" stroke-width="1" />
<line x1="48.40" y1="122.93" x2="51.20" y2="122.93" stroke="#000" stroke-width="1" />
<line x1="48.40" y1="121.58" x2="51.20" y2="121.58" stroke="#000" stroke-width="1" />
<line x1="48.40" y1="120.48" x2="51.20" y2="120.48" stroke="#000" stroke-width="1" />
<text x="43.00" y="135.60" font-size="10" fill="#000" text-anchor="end" font-family='"Liberation Sans", Arial, sans-serif' >10<tspan font-size="6.7" dy="-5.6">-2</tspan></text>
<text x="43.00" y="149.50" font-size="10" fill="#000" text-anchor="end" font-family='"Liberation Sans", Arial, sans-serif' >10<tspan font-size="6.7" dy="-5.6">-3</tspan></text>
<text x="43.00" y="163.40" font-size="10" fill="#000" text-anchor="end" font-family='"Liberation Sans", Arial, sans-serif' >10<tspan font-size="6.7" dy="-5.6">-4</tspan></text>
<line x1="309.60" y1="120.32" x2="309.60" y2="167.32" stroke="#ff0000" stroke-width="1.05" />
<line x1="309.60" y1="167.59" x2="312.40" y2="167.59" stroke="#ff0000" stroke-width="1" />
<line x1="309.60" y1="164.39" x2="312.40" y2="164.39" stroke="#ff0000" stroke-width="1" />
<line x1="309.60" y1="161.91" x2="312.40" y2="161.91" stroke="#ff0000" stroke-width="1" />
<line x1="309.60" y1="159.88" x2="312.40" y2="159.88" stroke="#ff0000" stroke-width="1" />
<line x1="309.60" y1="158.17" x2="312.40" y2="158.17" stroke="#ff0000" stroke-width="1" />
<line x1="309.60" y1="156.68" x2="312.40" y2="156.68" stroke="#ff0000" stroke-width="1" />
<line x1="309.60" y1="155.37" x2="312.40" y2="155.37" stroke="#ff0000" stroke-width="1" />
<line x1="309.60" y1="154.20" x2="315.10" y2="154.20" stroke="#ff0000" stroke-width="1" />
<line x1="309.60" y1="146.49" x2="312.40" y2="146.49" stroke="#ff0000" stroke-width="1" />
<line x1="309.60" y1="141.99" x2="312.40" y2="141.99" stroke="#ff0000" stroke-width="1" />
<line x1="309.60" y1="138.79" x2="312.40" y2="138.79" stroke="#ff0000" stroke-width="1" />
<line x1="309.60" y1="136.31" x2="312.40" y2="136.31" stroke="#ff0000" stroke-width="1" />
<line x1="309.60" y1="134.28" x2="312.40" y2="134.28" stroke="#ff0000" stroke-width="1" />
<line x1="309.60" y1="132.57" x2="312.40" y2="132.57" stroke="#ff0000" stroke-width="1" />
<line x1="309.60" y1="131.08" x2="312.40" y2="131.08" stroke="#ff0000" stroke-width="1" />
<line x1="309.60" y1="129.77" x2="312.40" y2="129.77" stroke="#ff0000" stroke-width="1" />
<line x1="309.60" y1="128.60" x2="315.10" y2="128.60" stroke="#ff0000" stroke-width="1" />
<line x1="309.60" y1="120.89" x2="312.40" y2="120.89" stroke="#ff0000" stroke-width="1" />
<text x="318.30" y="132.90" font-size="10" fill="#000" text-anchor="start" font-family='"Liberation Sans", Arial, sans-serif' >10<tspan font-size="6.7" dy="-5.6">-1</tspan></text>
<text x="318.30" y="158.50" font-size="10" fill="#000" text-anchor="start" font-family='"Liberation Sans", Arial, sans-serif' >10<tspan font-size="6.7" dy="-5.6">-2</tspan></text>
<line x1="45.70" y1="224.53" x2="51.20" y2="224.53" stroke="#000" stroke-width="1" />
<line x1="48.40" y1="219.83" x2="51.20" y2="219.83" stroke="#000" stroke-width="1" />
<line x1="48.40" y1="217.09" x2="51.20" y2="217.09" stroke="#000" stroke-width="1" />
<line x1="48.40" y1="215.14" x2="51.20" y2="215.14" stroke="#000" stroke-width="1" />
<line x1="48.40" y1="213.63" x2="51.20" y2="213.63" stroke="#000" stroke-width="1" />
<line x1="48.40" y1="212.39" x2="51.20" y2="212.39" stroke="#000" stroke-width="1" />
<line x1="48.40" y1="211.35" x2="51.20" y2="211.35" stroke="#000" stroke-width="1" />
<line x1="48.40" y1="210.44" x2="51.20" y2="210.44" stroke="#000" stroke-width="1" />
<line x1="48.40" y1="209.64" x2="51.20" y2="209.64" stroke="#000" stroke-width="1" />
<line x1="45.70" y1="208.93" x2="51.20" y2="208.93" stroke="#000" stroke-width="1" />
<line x1="48.40" y1="204.23" x2="51.20" y2="204.23" stroke="#000" stroke-width="1" />
<line x1="48.40" y1="201.49" x2="51.20" y2="201.49" stroke="#000" stroke-width="1" />
<line x1="48.40" y1="199.54" x2="51.20" y2="199.54" stroke="#000" stroke-width="1" />
<line x1="48.40" y1="198.03" x2="51.20" y2="198.03" stroke="#000" stroke-width="1" />
<line x1="48.40" y1="196.79" x2="51.20" y2="196.79" stroke="#000" stroke-width="1" />
<line x1="48.40" y1="195.75" x2="51.20" y2="195.75" stroke="#000" stroke-width="1" />
<line x1="48.40" y1="194.84" x2="51.20" y2="194.84" stroke="#000" stroke-width="1" />
<line x1="48.40" y1="194.04" x2="51.20" y2="194.04" stroke="#000" stroke-width="1" />
<line x1="45.70" y1="193.33" x2="51.20" y2="193.33" stroke="#000" stroke-width="1" />
<line x1="48.40" y1="188.63" x2="51.20" y2="188.63" stroke="#000" stroke-width="1" />
<line x1="48.40" y1="185.89" x2="51.20" y2="185.89" stroke="#000" stroke-width="1" />
<line x1="48.40" y1="183.94" x2="51.20" y2="183.94" stroke="#000" stroke-width="1" />
<line x1="48.40" y1="182.43" x2="51.20" y2="182.43" stroke="#000" stroke-width="1" />
<line x1="48.40" y1="181.19" x2="51.20" y2="181.19" stroke="#000" stroke-width="1" />
<line x1="48.40" y1="180.15" x2="51.20" y2="180.15" stroke="#000" stroke-width="1" />
<line x1="48.40" y1="179.24" x2="51.20" y2="179.24" stroke="#000" stroke-width="1" />
<line x1="48.40" y1="178.44" x2="51.20" y2="178.44" stroke="#000" stroke-width="1" />
<line x1="45.70" y1="177.73" x2="51.20" y2="177.73" stroke="#000" stroke-width="1" />
<text x="43.00" y="182.03" font-size="10" fill="#000" text-anchor="end" font-family='"Liberation Sans", Arial, sans-serif' >10<tspan font-size="6.7" dy="-5.6">0</tspan></text>
<text x="43.00" y="197.63" font-size="10" fill="#000" text-anchor="end" font-family='"Liberation Sans", Arial, sans-serif' >10<tspan font-size="6.7" dy="-5.6">-1</tspan></text>
<text x="43.00" y="213.23" font-size="10" fill="#000" text-anchor="end" font-family='"Liberation Sans", Arial, sans-serif' >10<tspan font-size="6.7" dy="-5.6">-2</tspan></text>
<text x="43.00" y="228.83" font-size="10" fill="#000" text-anchor="end" font-family='"Liberation Sans", Arial, sans-serif' >10<tspan font-size="6.7" dy="-5.6">-3</tspan></text>
<line x1="309.60" y1="177.73" x2="309.60" y2="224.73" stroke="#ff0000" stroke-width="1.05" />
<line x1="309.60" y1="224.96" x2="312.40" y2="224.96" stroke="#ff0000" stroke-width="1" />
<line x1="309.60" y1="221.88" x2="312.40" y2="221.88" stroke="#ff0000" stroke-width="1" />
<line x1="309.60" y1="219.69" x2="312.40" y2="219.69" stroke="#ff0000" stroke-width="1" />
<line x1="309.60" y1="218.00" x2="312.40" y2="218.00" stroke="#ff0000" stroke-width="1" />
<line x1="309.60" y1="216.61" x2="312.40" y2="216.61" stroke="#ff0000" stroke-width="1" />
<line x1="309.60" y1="215.44" x2="312.40" y2="215.44" stroke="#ff0000" stroke-width="1" />
<line x1="309.60" y1="214.43" x2="312.40" y2="214.43" stroke="#ff0000" stroke-width="1" />
<line x1="309.60" y1="213.53" x2="312.40" y2="213.53" stroke="#ff0000" stroke-width="1" />
<line x1="309.60" y1="212.73" x2="315.10" y2="212.73" stroke="#ff0000" stroke-width="1" />
<line x1="309.60" y1="207.46" x2="312.40" y2="207.46" stroke="#ff0000" stroke-width="1" />
<line x1="309.60" y1="204.38" x2="312.40" y2="204.38" stroke="#ff0000" stroke-width="1" />
<line x1="309.60" y1="202.19" x2="312.40" y2="202.19" stroke="#ff0000" stroke-width="1" />
<line x1="309.60" y1="200.50" x2="312.40" y2="200.50" stroke="#ff0000" stroke-width="1" />
<line x1="309.60" y1="199.11" x2="312.40" y2="199.11" stroke="#ff0000" stroke-width="1" />
<line x1="309.60" y1="197.94" x2="312.40" y2="197.94" stroke="#ff0000" stroke-width="1" />
<line x1="309.60" y1="196.93" x2="312.40" y2="196.93" stroke="#ff0000" stroke-width="1" />
<line x1="309.60" y1="196.03" x2="312.40" y2="196.03" stroke="#ff0000" stroke-width="1" />
<line x1="309.60" y1="195.23" x2="315.10" y2="195.23" stroke="#ff0000" stroke-width="1" />
<line x1="309.60" y1="189.96" x2="312.40" y2="189.96" stroke="#ff0000" stroke-width="1" />
<line x1="309.60" y1="186.88" x2="312.40" y2="186.88" stroke="#ff0000" stroke-width="1" />
<line x1="309.60" y1="184.69" x2="312.40" y2="184.69" stroke="#ff0000" stroke-width="1" />
<line x1="309.60" y1="183.00" x2="312.40" y2="183.00" stroke="#ff0000" stroke-width="1" />
<line x1="309.60" y1="181.61" x2="312.40" y2="181.61" stroke="#ff0000" stroke-width="1" />
<line x1="309.60" y1="180.44" x2="312.40" y2="180.44" stroke="#ff0000" stroke-width="1" />
<line x1="309.60" y1="179.43" x2="312.40" y2="179.43" stroke="#ff0000" stroke-width="1" />
<line x1="309.60" y1="178.53" x2="312.40" y2="178.53" stroke="#ff0000" stroke-width="1" />
<line x1="309.60" y1="177.73" x2="315.10" y2="177.73" stroke="#ff0000" stroke-width="1" />
<text x="318.30" y="182.03" font-size="10" fill="#000" text-anchor="start" font-family='"Liberation Sans", Arial, sans-serif' >10<tspan font-size="6.7" dy="-5.6">3</tspan></text>
<text x="318.30" y="199.53" font-size="10" fill="#000" text-anchor="start" font-family='"Liberation Sans", Arial, sans-serif' >10<tspan font-size="6.7" dy="-5.6">2</tspan></text>
<text x="318.30" y="217.03" font-size="10" fill="#000" text-anchor="start" font-family='"Liberation Sans", Arial, sans-serif' >10<tspan font-size="6.7" dy="-5.6">1</tspan></text>
<line x1="48.40" y1="281.81" x2="51.20" y2="281.81" stroke="#000" stroke-width="1" />
<line x1="48.40" y1="277.55" x2="51.20" y2="277.55" stroke="#000" stroke-width="1" />
<line x1="48.40" y1="274.06" x2="51.20" y2="274.06" stroke="#000" stroke-width="1" />
<line x1="48.40" y1="271.12" x2="51.20" y2="271.12" stroke="#000" stroke-width="1" />
<line x1="48.40" y1="268.56" x2="51.20" y2="268.56" stroke="#000" stroke-width="1" />
<line x1="48.40" y1="266.31" x2="51.20" y2="266.31" stroke="#000" stroke-width="1" />
<line x1="45.70" y1="264.30" x2="51.20" y2="264.30" stroke="#000" stroke-width="1" />
<line x1="48.40" y1="251.05" x2="51.20" y2="251.05" stroke="#000" stroke-width="1" />
<line x1="48.40" y1="243.31" x2="51.20" y2="243.31" stroke="#000" stroke-width="1" />
<line x1="48.40" y1="237.81" x2="51.20" y2="237.81" stroke="#000" stroke-width="1" />
<text x="43.00" y="267.05" font-size="10" fill="#000" text-anchor="end" font-family='"Liberation Sans", Arial, sans-serif' >10</text>
<line x1="309.60" y1="235.14" x2="309.60" y2="282.14" stroke="#ff0000" stroke-width="1.05" />
<line x1="309.60" y1="282.40" x2="312.40" y2="282.40" stroke="#ff0000" stroke-width="1" />
<line x1="309.60" y1="279.66" x2="312.40" y2="279.66" stroke="#ff0000" stroke-width="1" />
<line x1="309.60" y1="277.71" x2="312.40" y2="277.71" stroke="#ff0000" stroke-width="1" />
<line x1="309.60" y1="276.20" x2="312.40" y2="276.20" stroke="#ff0000" stroke-width="1" />
<line x1="309.60" y1="274.96" x2="312.40" y2="274.96" stroke="#ff0000" stroke-width="1" />
<line x1="309.60" y1="273.92" x2="312.40" y2="273.92" stroke="#ff0000" stroke-width="1" />
<line x1="309.60" y1="273.01" x2="312.40" y2="273.01" stroke="#ff0000" stroke-width="1" />
<line x1="309.60" y1="272.21" x2="312.40" y2="272.21" stroke="#ff0000" stroke-width="1" />
<line x1="309.60" y1="271.50" x2="315.10" y2="271.50" stroke="#ff0000" stroke-width="1" />
<line x1="309.60" y1="266.80" x2="312.40" y2="266.80" stroke="#ff0000" stroke-width="1" />
<line x1="309.60" y1="264.06" x2="312.40" y2="264.06" stroke="#ff0000" stroke-width="1" />
<line x1="309.60" y1="262.11" x2="312.40" y2="262.11" stroke="#ff0000" stroke-width="1" />
<line x1="309.60" y1="260.60" x2="312.40" y2="260.60" stroke="#ff0000" stroke-width="1" />
<line x1="309.60" y1="259.36" x2="312.40" y2="259.36" stroke="#ff0000" stroke-width="1" />
<line x1="309.60" y1="258.32" x2="312.40" y2="258.32" stroke="#ff0000" stroke-width="1" />
<line x1="309.60" y1="257.41" x2="312.40" y2="257.41" stroke="#ff0000" stroke-width="1" />
<line x1="309.60" y1="256.61" x2="312.40" y2="256.61" stroke="#ff0000" stroke-width="1" />
<line x1="309.60" y1="255.90" x2="315.10" y2="255.90" stroke="#ff0000" stroke-width="1" />
<line x1="309.60" y1="251.20" x2="312.40" y2="251.20" stroke="#ff0000" stroke-width="1" />
<line x1="309.60" y1="248.46" x2="312.40" y2="248.46" stroke="#ff0000" stroke-width="1" />
<line x1="309.60" y1="246.51" x2="312.40" y2="246.51" stroke="#ff0000" stroke-width="1" />
<line x1="309.60" y1="245.00" x2="312.40" y2="245.00" stroke="#ff0000" stroke-width="1" />
<line x1="309.60" y1="243.76" x2="312.40" y2="243.76" stroke="#ff0000" stroke-width="1" />
<line x1="309.60" y1="242.72" x2="312.40" y2="242.72" stroke="#ff0000" stroke-width="1" />
<line x1="309.60" y1="241.81" x2="312.40" y2="241.81" stroke="#ff0000" stroke-width="1" />
<line x1="309.60" y1="241.01" x2="312.40" y2="241.01" stroke="#ff0000" stroke-width="1" />
<line x1="309.60" y1="240.30" x2="315.10" y2="240.30" stroke="#ff0000" stroke-width="1" />
<line x1="309.60" y1="235.60" x2="312.40" y2="235.60" stroke="#ff0000" stroke-width="1" />
<text x="318.30" y="243.05" font-size="10" fill="#000" text-anchor="start" font-family='"Liberation Sans", Arial, sans-serif' >10</text>
<text x="318.30" y="258.65" font-size="10" fill="#000" text-anchor="start" font-family='"Liberation Sans", Arial, sans-serif' >1</text>
<text x="318.30" y="274.25" font-size="10" fill="#000" text-anchor="start" font-family='"Liberation Sans", Arial, sans-serif' >0.1</text>
<line x1="48.40" y1="334.28" x2="51.20" y2="334.28" stroke="#000" stroke-width="1" />
<line x1="48.40" y1="330.03" x2="51.20" y2="330.03" stroke="#000" stroke-width="1" />
<line x1="48.40" y1="326.74" x2="51.20" y2="326.74" stroke="#000" stroke-width="1" />
<line x1="48.40" y1="324.04" x2="51.20" y2="324.04" stroke="#000" stroke-width="1" />
<line x1="48.40" y1="321.77" x2="51.20" y2="321.77" stroke="#000" stroke-width="1" />
<line x1="48.40" y1="319.79" x2="51.20" y2="319.79" stroke="#000" stroke-width="1" />
<line x1="48.40" y1="318.06" x2="51.20" y2="318.06" stroke="#000" stroke-width="1" />
<line x1="45.70" y1="316.50" x2="51.20" y2="316.50" stroke="#000" stroke-width="1" />
<line x1="48.40" y1="306.26" x2="51.20" y2="306.26" stroke="#000" stroke-width="1" />
<line x1="48.40" y1="300.28" x2="51.20" y2="300.28" stroke="#000" stroke-width="1" />
<line x1="48.40" y1="296.03" x2="51.20" y2="296.03" stroke="#000" stroke-width="1" />
<line x1="48.40" y1="292.74" x2="51.20" y2="292.74" stroke="#000" stroke-width="1" />
<line x1="309.60" y1="334.28" x2="312.40" y2="334.28" stroke="#000" stroke-width="1" />
<line x1="309.60" y1="330.03" x2="312.40" y2="330.03" stroke="#000" stroke-width="1" />
<line x1="309.60" y1="326.74" x2="312.40" y2="326.74" stroke="#000" stroke-width="1" />
<line x1="309.60" y1="324.04" x2="312.40" y2="324.04" stroke="#000" stroke-width="1" />
<line x1="309.60" y1="321.77" x2="312.40" y2="321.77" stroke="#000" stroke-width="1" />
<line x1="309.60" y1="319.79" x2="312.40" y2="319.79" stroke="#000" stroke-width="1" />
<line x1="309.60" y1="318.06" x2="312.40" y2="318.06" stroke="#000" stroke-width="1" />
<line x1="309.60" y1="316.50" x2="315.10" y2="316.50" stroke="#000" stroke-width="1" />
<line x1="309.60" y1="306.26" x2="312.40" y2="306.26" stroke="#000" stroke-width="1" />
<line x1="309.60" y1="300.28" x2="312.40" y2="300.28" stroke="#000" stroke-width="1" />
<line x1="309.60" y1="296.03" x2="312.40" y2="296.03" stroke="#000" stroke-width="1" />
<line x1="309.60" y1="292.74" x2="312.40" y2="292.74" stroke="#000" stroke-width="1" />
<text x="43.00" y="319.25" font-size="10" fill="#000" text-anchor="end" font-family='"Liberation Sans", Arial, sans-serif' >10</text>
<line x1="45.70" y1="392.06" x2="51.20" y2="392.06" stroke="#000" stroke-width="1" />
<line x1="309.60" y1="392.06" x2="315.10" y2="392.06" stroke="#000" stroke-width="1" />
<text x="42.20" y="394.81" font-size="10" fill="#000" text-anchor="end" font-family='"Liberation Sans", Arial, sans-serif' >-2</text>
<line x1="48.40" y1="387.39" x2="51.20" y2="387.39" stroke="#000" stroke-width="1" />
<line x1="309.60" y1="387.39" x2="312.40" y2="387.39" stroke="#000" stroke-width="1" />
<line x1="45.70" y1="382.73" x2="51.20" y2="382.73" stroke="#000" stroke-width="1" />
<line x1="309.60" y1="382.73" x2="315.10" y2="382.73" stroke="#000" stroke-width="1" />
<text x="42.20" y="385.48" font-size="10" fill="#000" text-anchor="end" font-family='"Liberation Sans", Arial, sans-serif' >-1</text>
<line x1="48.40" y1="378.06" x2="51.20" y2="378.06" stroke="#000" stroke-width="1" />
<line x1="309.60" y1="378.06" x2="312.40" y2="378.06" stroke="#000" stroke-width="1" />
<line x1="45.70" y1="373.40" x2="51.20" y2="373.40" stroke="#000" stroke-width="1" />
<line x1="309.60" y1="373.40" x2="315.10" y2="373.40" stroke="#000" stroke-width="1" />
<text x="42.20" y="376.15" font-size="10" fill="#000" text-anchor="end" font-family='"Liberation Sans", Arial, sans-serif' >0</text>
<line x1="48.40" y1="368.73" x2="51.20" y2="368.73" stroke="#000" stroke-width="1" />
<line x1="309.60" y1="368.73" x2="312.40" y2="368.73" stroke="#000" stroke-width="1" />
<line x1="45.70" y1="364.07" x2="51.20" y2="364.07" stroke="#000" stroke-width="1" />
<line x1="309.60" y1="364.07" x2="315.10" y2="364.07" stroke="#000" stroke-width="1" />
<text x="42.20" y="366.82" font-size="10" fill="#000" text-anchor="end" font-family='"Liberation Sans", Arial, sans-serif' >1</text>
<line x1="48.40" y1="359.40" x2="51.20" y2="359.40" stroke="#000" stroke-width="1" />
<line x1="309.60" y1="359.40" x2="312.40" y2="359.40" stroke="#000" stroke-width="1" />
<line x1="45.70" y1="354.74" x2="51.20" y2="354.74" stroke="#000" stroke-width="1" />
<line x1="309.60" y1="354.74" x2="315.10" y2="354.74" stroke="#000" stroke-width="1" />
<text x="42.20" y="357.49" font-size="10" fill="#000" text-anchor="end" font-family='"Liberation Sans", Arial, sans-serif' >2</text>
<line x1="45.70" y1="407.37" x2="51.20" y2="407.37" stroke="#000" stroke-width="1" />
<line x1="48.40" y1="419.12" x2="51.20" y2="419.12" stroke="#000" stroke-width="1" />
<line x1="45.70" y1="430.87" x2="51.20" y2="430.87" stroke="#000" stroke-width="1" />
<line x1="48.40" y1="442.62" x2="51.20" y2="442.62" stroke="#000" stroke-width="1" />
<line x1="45.70" y1="454.37" x2="51.20" y2="454.37" stroke="#000" stroke-width="1" />
<text x="42.20" y="410.12" font-size="10" fill="#000" text-anchor="end" font-family='"Liberation Sans", Arial, sans-serif' >4.70</text>
<text x="42.20" y="433.62" font-size="10" fill="#000" text-anchor="end" font-family='"Liberation Sans", Arial, sans-serif' >4.65</text>
<text x="42.20" y="457.12" font-size="10" fill="#000" text-anchor="end" font-family='"Liberation Sans", Arial, sans-serif' >4.60</text>
<line x1="309.60" y1="407.37" x2="309.60" y2="454.87" stroke="#ff0000" stroke-width="1.05" />
<line x1="309.60" y1="407.47" x2="312.40" y2="407.47" stroke="#ff0000" stroke-width="1" />
<line x1="309.60" y1="419.27" x2="315.10" y2="419.27" stroke="#ff0000" stroke-width="1" />
<line x1="309.60" y1="431.07" x2="312.40" y2="431.07" stroke="#ff0000" stroke-width="1" />
<line x1="309.60" y1="442.87" x2="315.10" y2="442.87" stroke="#ff0000" stroke-width="1" />
<line x1="309.60" y1="454.67" x2="312.40" y2="454.67" stroke="#ff0000" stroke-width="1" />
<line x1="309.60" y1="454.37" x2="309.60" y2="459.77" stroke="#ff0000" stroke-width="1.05" />
<text x="318.30" y="422.42" font-size="10" fill="#000" text-anchor="start" font-family='"Liberation Sans", Arial, sans-serif' >-32</text>
<text x="318.30" y="446.02" font-size="10" fill="#000" text-anchor="start" font-family='"Liberation Sans", Arial, sans-serif' >-33</text>
<text x="54.00" y="19.70" font-size="12.7" fill="#000" text-anchor="start" font-family='"Liberation Sans", Arial, sans-serif' >(a)</text>
<text x="54.00" y="77.00" font-size="12.7" fill="#000" text-anchor="start" font-family='"Liberation Sans", Arial, sans-serif' >(b)</text>
<text x="54.00" y="161.30" font-size="12.7" fill="#000" text-anchor="start" font-family='"Liberation Sans", Arial, sans-serif' >(c)</text>
<text x="54.00" y="218.80" font-size="12.7" fill="#000" text-anchor="start" font-family='"Liberation Sans", Arial, sans-serif' >(d)</text>
<text x="54.00" y="263.30" font-size="12.7" fill="#000" text-anchor="start" font-family='"Liberation Sans", Arial, sans-serif' >(e)</text>
<text x="54.00" y="333.80" font-size="12.7" fill="#000" text-anchor="start" font-family='"Liberation Sans", Arial, sans-serif' >(f)</text>
<text x="54.00" y="364.80" font-size="12.7" fill="#000" text-anchor="start" font-family='"Liberation Sans", Arial, sans-serif' >(g)</text>
<text x="54.00" y="449.80" font-size="12.7" fill="#000" text-anchor="start" font-family='"Liberation Sans", Arial, sans-serif' >(h)</text>
<text x="10.60" y="33.40" font-size="13" fill="#000" text-anchor="start" font-family='"Liberation Sans", Arial, sans-serif' transform="rotate(-90 10.60 33.40)" >V<tspan font-size="7.2" dy="4.5">sw</tspan></text>
<text x="10.60" y="90.90" font-size="13" fill="#000" text-anchor="start" font-family='"Liberation Sans", Arial, sans-serif' transform="rotate(-90 10.60 90.90)" >N<tspan font-size="7.2" dy="4.5">p</tspan></text>
<text x="10.60" y="150.20" font-size="13" fill="#000" text-anchor="start" font-family='"Liberation Sans", Arial, sans-serif' transform="rotate(-90 10.60 150.20)" >N<tspan font-size="7.2" dy="4.5">&#945;</tspan></text>
<text x="10.50" y="207.70" font-size="13" fill="#000" text-anchor="start" font-family='"Liberation Sans", Arial, sans-serif' transform="rotate(-90 10.50 207.70)" >P<tspan font-size="7.2" dy="4.5">sw</tspan></text>
<text x="10.50" y="262.50" font-size="13" fill="#000" text-anchor="start" font-family='"Liberation Sans", Arial, sans-serif' transform="rotate(-90 10.50 262.50)" >T<tspan font-size="7.2" dy="4.5">p</tspan></text>
<text x="10.50" y="332.80" font-size="13" fill="#000" text-anchor="start" font-family='"Liberation Sans", Arial, sans-serif' transform="rotate(-90 10.50 332.80)" >M<tspan font-size="7.2" dy="4.5">A</tspan><tspan font-size="13" dy="-4.5">/M</tspan><tspan font-size="7.2" dy="4.5">ms</tspan></text>
<text x="10.50" y="383.50" font-size="13" fill="#000" text-anchor="start" font-family='"Liberation Sans", Arial, sans-serif' transform="rotate(-90 10.50 383.50)" >IMF</text>
<text x="10.20" y="434.50" font-size="13" fill="#000" text-anchor="start" font-family='"Liberation Sans", Arial, sans-serif' transform="rotate(-90 10.20 434.50)" >r<tspan font-size="7.2" dy="4.5">h</tspan></text>
<text x="350.00" y="44.90" font-size="13" fill="#000" text-anchor="start" font-family='"Liberation Sans", Arial, sans-serif' transform="rotate(-90 350.00 44.90)" >V<tspan font-size="7.2" dy="4.5">A</tspan><tspan font-size="13" dy="-4.5">/V</tspan><tspan font-size="7.2" dy="4.5">ms</tspan></text>
<text x="349.70" y="160.40" font-size="13" fill="#000" text-anchor="start" font-family='"Liberation Sans", Arial, sans-serif' transform="rotate(-90 349.70 160.40)" >N<tspan font-size="7.2" dy="4.5">&#945;</tspan><tspan font-size="13" dy="-4.5">/N</tspan><tspan font-size="7.2" dy="4.5">p</tspan></text>
<text x="349.70" y="210.40" font-size="13" fill="#000" text-anchor="start" font-family='"Liberation Sans", Arial, sans-serif' transform="rotate(-90 349.70 210.40)" >J<tspan font-size="7.2" dy="4.5">p</tspan></text>
<text x="349.60" y="260.20" font-size="12.5" fill="#000" text-anchor="start" font-family='"Liberation Serif", "DejaVu Serif", serif' transform="rotate(-90 349.60 260.20)" >&#946;</text>
<text x="350.00" y="440.50" font-size="13" fill="#000" text-anchor="start" font-family='"Liberation Sans", Arial, sans-serif' transform="rotate(-90 350.00 440.50)" >Lat</text>
<text x="224.00" y="21.80" font-size="13.5" fill="#000" text-anchor="start" font-family='"Liberation Sans", Arial, sans-serif' >V<tspan font-size="8.0" dy="5.0">sw</tspan></text>
<text x="258.50" y="21.80" font-size="13.5" fill="#0000ff" text-anchor="start" font-family='"Liberation Sans", Arial, sans-serif' >V<tspan font-size="8.0" dy="5.0">A</tspan></text>
<text x="282.10" y="21.80" font-size="13.5" fill="#ff0000" text-anchor="start" font-family='"Liberation Sans", Arial, sans-serif' >V<tspan font-size="8.0" dy="5.0">ms</tspan></text>
<text x="254.10" y="330.00" font-size="13.5" fill="#000" text-anchor="start" font-family='"Liberation Sans", Arial, sans-serif' >M<tspan font-size="8.0" dy="5.0">A</tspan></text>
<text x="283.60" y="330.00" font-size="13.5" fill="#ff0000" text-anchor="start" font-family='"Liberation Sans", Arial, sans-serif' >M<tspan font-size="8.0" dy="5.0">ms</tspan></text>
<text x="320.60" y="364.20" font-size="13.5" fill="#000" text-anchor="start" font-family='"Liberation Sans", Arial, sans-serif' >B<tspan font-size="8.0" dy="5.0">0</tspan></text>
<text x="336.60" y="364.20" font-size="13.5" fill="#0000ff" text-anchor="start" font-family='"Liberation Sans", Arial, sans-serif' >B<tspan font-size="8.0" dy="5.0">R</tspan></text>
<text x="320.60" y="384.30" font-size="13.5" fill="#00ff00" text-anchor="start" font-family='"Liberation Sans", Arial, sans-serif' >B<tspan font-size="8.0" dy="5.0">T</tspan></text>
<text x="336.60" y="384.30" font-size="13.5" fill="#ff0000" text-anchor="start" font-family='"Liberation Sans", Arial, sans-serif' >B<tspan font-size="8.0" dy="5.0">N</tspan></text>
<text x="123.10" y="32.50" font-size="10" fill="#000" text-anchor="start" font-family='"Liberation Sans", Arial, sans-serif' transform="rotate(-90 123.10 32.50)" >FR<tspan font-size="6.5" dy="3.8">156</tspan></text>
<text x="152.60" y="30.90" font-size="10" fill="#000" text-anchor="start" font-family='"Liberation Sans", Arial, sans-serif' transform="rotate(-90 152.60 30.90)" >FR<tspan font-size="6.5" dy="3.8">157</tspan></text>
<text x="174.70" y="42.30" font-size="10" fill="#000" text-anchor="start" font-family='"Liberation Sans", Arial, sans-serif' transform="rotate(-90 174.70 42.30)" >FF<tspan font-size="6.5" dy="3.8">160</tspan></text>
</svg>
</body></html>
